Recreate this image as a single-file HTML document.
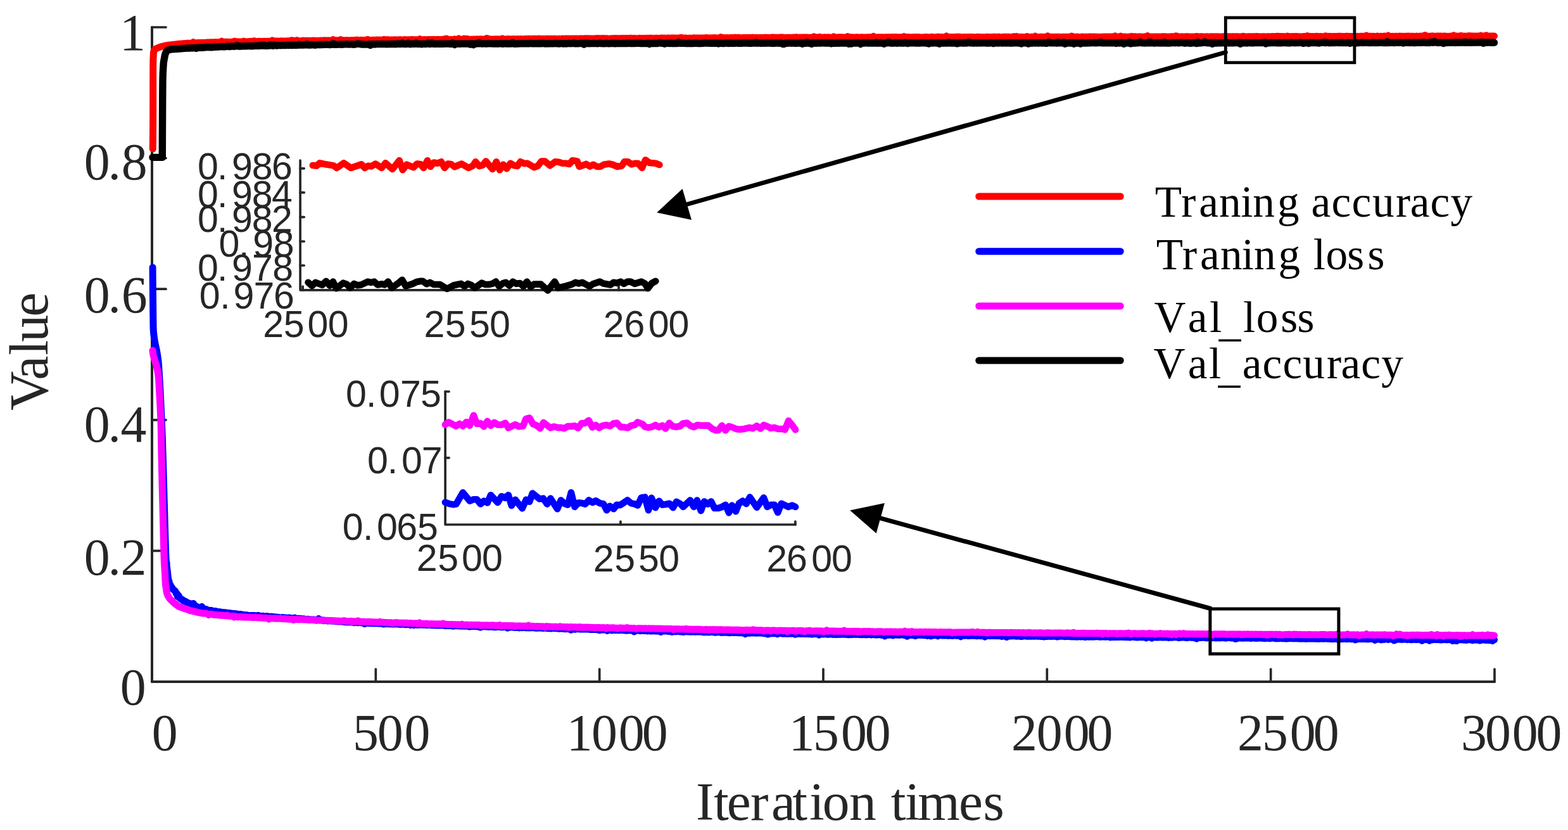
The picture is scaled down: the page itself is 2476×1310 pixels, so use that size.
<!DOCTYPE html>
<html lang="en"><head><meta charset="utf-8"><title>Training curves</title>
<style>html,body{margin:0;padding:0;background:#fff;}body{width:2476px;height:1310px;overflow:hidden;}svg{display:block;}text{white-space:pre;font-kerning:none;}</style>
</head><body>
<svg width="2476" height="1310" viewBox="0 0 2476 1310" role="img" aria-label="Training and validation accuracy and loss versus iteration times">
<rect x="0" y="0" width="2476" height="1310" fill="#ffffff"/>
<g id="main-axes">
<path d="M240,43 L240,1076 L2360,1076" fill="none" stroke="#262626" stroke-width="4" stroke-linecap="round" stroke-linejoin="round" stroke-linejoin="miter"/>
<path d="M240,1076 L262,1076" fill="none" stroke="#262626" stroke-width="3.7" stroke-linecap="round" stroke-linejoin="round"/>
<path d="M240,869.4 L262,869.4" fill="none" stroke="#262626" stroke-width="3.7" stroke-linecap="round" stroke-linejoin="round"/>
<path d="M240,662.8 L262,662.8" fill="none" stroke="#262626" stroke-width="3.7" stroke-linecap="round" stroke-linejoin="round"/>
<path d="M240,456.2 L262,456.2" fill="none" stroke="#262626" stroke-width="3.7" stroke-linecap="round" stroke-linejoin="round"/>
<path d="M240,249.6 L262,249.6" fill="none" stroke="#262626" stroke-width="3.7" stroke-linecap="round" stroke-linejoin="round"/>
<path d="M240,43 L262,43" fill="none" stroke="#262626" stroke-width="3.7" stroke-linecap="round" stroke-linejoin="round"/>
<path d="M240,1076 L240,1056.2" fill="none" stroke="#262626" stroke-width="3.7" stroke-linecap="round" stroke-linejoin="round"/>
<path d="M593.33,1076 L593.33,1056.2" fill="none" stroke="#262626" stroke-width="3.7" stroke-linecap="round" stroke-linejoin="round"/>
<path d="M946.67,1076 L946.67,1056.2" fill="none" stroke="#262626" stroke-width="3.7" stroke-linecap="round" stroke-linejoin="round"/>
<path d="M1300,1076 L1300,1056.2" fill="none" stroke="#262626" stroke-width="3.7" stroke-linecap="round" stroke-linejoin="round"/>
<path d="M1653.33,1076 L1653.33,1056.2" fill="none" stroke="#262626" stroke-width="3.7" stroke-linecap="round" stroke-linejoin="round"/>
<path d="M2006.67,1076 L2006.67,1056.2" fill="none" stroke="#262626" stroke-width="3.7" stroke-linecap="round" stroke-linejoin="round"/>
<path d="M2360,1076 L2360,1056.2" fill="none" stroke="#262626" stroke-width="3.7" stroke-linecap="round" stroke-linejoin="round"/>
</g>
<g id="inset-axes">
<path d="M474.1,253.2 L474.1,457.8 L1024,457.8" fill="none" stroke="#262626" stroke-width="3.7" stroke-linecap="round" stroke-linejoin="round"/>
<path d="M474.1,265.8 L480.2,265.8" fill="none" stroke="#262626" stroke-width="3.7" stroke-linecap="round" stroke-linejoin="round"/>
<path d="M474.1,303.9 L480.2,303.9" fill="none" stroke="#262626" stroke-width="3.7" stroke-linecap="round" stroke-linejoin="round"/>
<path d="M474.1,342.6 L480.2,342.6" fill="none" stroke="#262626" stroke-width="3.7" stroke-linecap="round" stroke-linejoin="round"/>
<path d="M474.1,381 L480.2,381" fill="none" stroke="#262626" stroke-width="3.7" stroke-linecap="round" stroke-linejoin="round"/>
<path d="M474.1,419 L480.2,419" fill="none" stroke="#262626" stroke-width="3.7" stroke-linecap="round" stroke-linejoin="round"/>
<path d="M478.1,457.8 L478.1,452.2" fill="none" stroke="#262626" stroke-width="3.7" stroke-linecap="round" stroke-linejoin="round"/>
<path d="M977,457.8 L977,451" fill="none" stroke="#262626" stroke-width="3.7" stroke-linecap="round" stroke-linejoin="round"/>
<path d="M703.1,618 L703.1,828 L1255.9,828" fill="none" stroke="#262626" stroke-width="3.7" stroke-linecap="round" stroke-linejoin="round"/>
<path d="M703.1,618 L709,618" fill="none" stroke="#262626" stroke-width="3.7" stroke-linecap="round" stroke-linejoin="round"/>
<path d="M703.1,722.7 L709,722.7" fill="none" stroke="#262626" stroke-width="3.7" stroke-linecap="round" stroke-linejoin="round"/>
<path d="M979.9,828 L979.9,823" fill="none" stroke="#262626" stroke-width="3.7" stroke-linecap="round" stroke-linejoin="round"/>
<path d="M1255.9,828 L1255.9,823" fill="none" stroke="#262626" stroke-width="3.7" stroke-linecap="round" stroke-linejoin="round"/>
</g>
<g id="curves">
<path d="M241.3,235L241.31,233.99L241.32,232.82L241.33,231.49L241.35,230.02L241.36,228.42L241.38,226.71L241.4,224.89L241.42,222.99L241.43,221.01L241.45,218.97L241.47,216.89L241.49,214.76L241.51,212.62L241.53,210.46L241.54,208.31L241.56,206.17L241.58,204.07L241.59,202.01L241.6,200L241.61,198.28L241.62,196.53L241.62,194.75L241.63,192.95L241.64,191.13L241.64,189.29L241.65,187.44L241.66,185.57L241.66,183.7L241.66,181.82L241.67,179.94L241.67,178.06L241.68,176.18L241.68,174.31L241.68,172.46L241.69,170.61L241.69,168.78L241.69,166.98L241.69,165.19L241.7,163.43L241.7,161.7L241.7,160L241.7,157.95L241.7,155.91L241.7,153.89L241.7,151.89L241.7,149.9L241.7,147.93L241.7,145.97L241.7,144.04L241.7,142.12L241.7,140.23L241.7,138.36L241.7,136.52L241.7,134.7L241.7,132.9L241.7,131.13L241.7,129.39L241.7,127.68L241.7,126L241.7,123.86L241.71,121.74L241.71,119.65L241.71,117.58L241.72,115.55L241.72,113.56L241.72,111.62L241.73,109.74L241.74,107.92L241.75,106.17L241.76,104.5L241.77,102.91L241.78,101.41L241.8,100L241.84,97.68L241.89,95.5L241.95,93.45L242.02,91.53L242.11,89.71L242.2,88L242.34,85.64L242.48,83.45L242.69,81.53L243,80L245.2,77.6L246.69,76.73L248.53,75.84L250.6,75L252.31,74.41L254.17,73.83L256.1,73.29L258,72.8L259.79,72.35L261.54,71.95L263.39,71.59L265.5,71.3L266.66,71.17L267.92,71.02L269.29,70.86L270.75,70.69L272.29,70.51L273.92,70.32L275.62,70.13L277.4,69.93L279.24,69.73L281.14,69.53L283.09,69.34L285.1,69.15L287.14,68.96L289.23,68.79L291.34,68.62L293.48,68.47L295.64,68.33L297.82,68.2L300,68.19L301.24,68.23L302.5,68.08L303.8,67.66L305.13,66.66L306.48,67.77L307.86,67.75L309.27,68.01L310.7,67.73L312.17,67.72L313.65,67.49L315.17,67.41L316.71,67.56L318.27,67.49L319.85,67.34L321.47,67.42L323.1,67.41L324.76,67.16L326.43,67.11L328.13,67.11L329.86,66.87L331.6,66.98L333.36,66.76L335.14,66.7L336.95,67.06L338.77,66.82L340.61,66.49L342.47,66.79L344.34,67.87L346.24,66.59L348.15,66.52L350.07,65.09L352.01,66.34L353.97,66.34L355.94,66.28L357.93,66.1L359.93,66.3L361.95,66.42L363.97,66.33L366.01,66.24L368.07,65.91L370.13,64.99L372.21,66.04L374.29,65.73L376.39,65.87L378.49,65.91L380.61,66.05L382.74,65.6L384.87,65.04L387.01,65.66L389.16,65.7L391.31,65.85L393.48,65.46L395.65,65.63L397.82,65.17L400,65.21L401.32,64.53L402.66,65.38L404,65.44L405.35,65.43L406.72,65.4L408.09,65.29L409.48,65.44L410.87,65.24L412.27,65.51L413.69,65.92L415.11,65.18L416.54,65.13L417.98,65.29L419.44,65.18L420.9,65.2L422.37,65.17L423.85,65.36L425.34,65.27L426.84,65.15L428.35,64.95L429.86,63.96L431.39,65.11L432.93,64.94L434.47,64.8L436.03,65.04L437.59,64.95L439.16,64.87L440.74,65.12L442.33,64.95L443.93,64.67L445.54,64.81L447.15,64.86L448.77,66.34L450.41,64.86L452.05,64.65L453.7,64.81L455.35,64.76L457.02,64.55L458.69,64.42L460.38,63.64L462.07,64.53L463.77,64.12L465.47,64.57L467.19,64.32L468.91,63.57L470.64,64.45L472.38,64.63L474.13,64.66L475.88,64.5L477.64,64.19L479.41,64.11L481.19,64.26L482.97,64.14L484.76,64.12L486.56,64.37L488.37,64.23L490.18,64.52L492,64.29L493.83,64.11L495.67,64L497.51,64.57L499.36,64.19L501.21,64.19L503.08,64.75L504.95,63.98L506.82,63.98L508.71,64.38L510.6,63.95L512.5,63.74L514.4,63.95L516.31,63.91L518.23,63.79L520.15,63.91L522.08,64.03L524.01,63.96L525.96,62.56L527.91,63.71L529.86,63.67L531.82,63.8L533.79,63.87L535.76,63.85L537.74,62.58L539.72,63.88L541.71,63.61L543.71,63.69L545.71,64.99L547.72,63.5L549.73,63.74L551.75,64L553.78,63.66L555.81,63.49L557.84,63.86L559.88,63.54L561.93,63.17L563.98,63.12L566.04,63.56L568.1,63.47L570.17,63.24L572.24,63.62L574.32,63.61L576.4,63.21L578.49,63.23L580.58,62.34L582.67,63.55L584.78,63.69L586.88,63.33L588.99,63.28L591.11,63.3L593.23,63.21L595.35,62.89L597.48,63.22L599.61,63.07L601.75,63.21L603.89,63.19L606.04,62.23L608.19,62.76L610.34,63.09L612.5,62.62L614.66,62.91L616.83,62.96L619,62.99L620.22,62.99L621.46,62.93L622.7,63.12L623.94,62.74L625.19,62.97L626.45,63.07L627.72,62.94L628.99,63.02L630.27,62.75L631.55,62.99L632.84,62.76L634.14,62.86L635.44,62.97L636.75,62.86L638.07,62.87L639.4,62.59L640.72,63.02L642.06,63.04L643.4,62.67L644.75,62.67L646.11,62.63L647.47,62.64L648.83,62.62L650.21,62.93L651.59,62.54L652.97,62.68L654.36,62.84L655.76,62.65L657.16,62.7L658.57,62.67L659.99,62.71L661.41,62.56L662.84,61.62L664.27,62.48L665.71,62.8L667.15,62.74L668.6,63.87L670.06,62.58L671.52,62.6L672.99,62.81L674.46,62.6L675.94,62.47L677.42,62.68L678.91,62.38L680.4,62.4L681.9,62.56L683.41,62.77L684.92,62.23L686.44,62.72L687.96,62.5L689.49,62.56L691.02,62.3L692.56,62.37L694.1,62.63L695.65,62.39L697.2,62.57L698.76,62.32L700.32,62.5L701.89,61.64L703.46,62.32L705.04,61.06L706.63,62.38L708.21,62.4L709.81,62.56L711.41,62.29L713.01,63.19L714.62,62.48L716.23,62.31L717.85,61.87L719.47,62.14L721.1,62.23L722.73,62.19L724.37,61.01L726.01,62.33L727.65,62.12L729.3,62.36L730.96,62.13L732.62,61.08L734.28,62.47L735.95,63.41L737.62,61.14L739.3,62.4L740.98,62.4L742.66,62.19L744.35,62.29L746.05,62.15L747.75,62L749.45,62.07L751.16,62.19L752.87,61.82L754.58,61.9L756.3,61.96L758.03,61.81L759.75,61.82L761.48,61.94L763.22,62.04L764.96,61.95L766.7,62.02L768.45,60.58L770.2,60.78L771.96,61.68L773.71,61.84L775.48,61.9L777.24,62.12L779.01,61.93L780.79,62.01L782.56,61.76L784.34,61.85L786.13,61.97L787.92,61.94L789.71,61.85L791.5,61.74L793.3,60.89L795.1,61.87L796.91,62.11L798.72,61.89L800.53,61.63L802.34,61.53L804.16,61.68L805.98,61.66L807.81,61.69L809.64,61.67L811.47,61.56L813.3,62.84L815.14,61.69L816.98,61.58L818.83,61.74L820.67,61.6L822.52,61.41L824.37,61.7L826.23,62.42L828.09,61.87L829.95,61.36L831.82,61.85L833.68,61.36L835.55,61.31L837.43,61.47L839.3,61.41L841.18,61.22L843.06,61.36L844.94,61.32L846.83,61.34L848.72,61.41L850.61,61.1L852.5,61.27L854.4,62.54L856.3,61.33L858.2,61.55L860.1,61.43L862.01,61.37L863.92,61.22L865.83,61.12L867.74,61.39L869.65,61.33L871.57,61.17L873.49,61.36L875.41,61.19L877.34,61.33L879.26,62.03L881.19,61.41L883.12,61.22L885.05,61.39L886.99,61.28L888.92,61.04L890.86,62.36L892.8,61.02L894.74,60.98L896.68,61.26L898.63,61.1L900.58,61.22L902.52,61.08L904.48,61.24L906.43,60.98L908.38,60.97L910.34,61.06L912.29,61.08L914.25,61.77L916.21,60.86L918.17,60.93L920.14,61.16L922.1,60.82L924.07,61.04L926.03,60.81L928,60.74L929.97,61.1L931.94,60.83L933.92,60.91L935.89,60.98L937.87,60.88L939.84,60.75L941.82,60.77L943.8,60.57L945.78,60.8L947.76,60.84L949.74,60.62L951.72,60.38L953.71,60.73L955.69,60.75L957.68,60.67L959.66,60.92L961.65,61.91L963.64,60.91L965.63,60.69L967.62,61.08L969.61,60.54L971.6,60.46L973.59,60.77L975.58,60.61L977.58,60.81L979.57,61.24L981.56,60.38L983.56,60.52L985.55,60.41L987.55,60.48L989.54,60.57L991.54,60.61L993.54,60.64L995.53,60.22L997.53,60.44L999.53,60.74L1001.53,60.35L1003.53,60.69L1005.52,60.63L1007.52,61.39L1009.52,60.28L1011.52,60.58L1013.52,60.53L1015.52,60.48L1017.52,60.5L1019.52,60.43L1021.52,60.34L1023.52,60.48L1025.51,60.31L1027.51,60.16L1029.51,60.34L1031.51,60.44L1033.51,60.55L1035.51,60.21L1037.5,60.31L1039.5,60.45L1041.5,60.46L1043.49,60.12L1045.49,60.12L1047.49,60.19L1049.48,60.11L1051.48,60.3L1053.47,60.23L1055.46,59.95L1057.46,60.17L1059.45,60.21L1061.44,59.86L1063.43,60.14L1065.42,60L1067.41,60.09L1069.4,60.36L1071.39,60.05L1073.38,60.15L1075.36,59.2L1077.35,60L1079.34,60.73L1081.32,60.02L1083.3,60.01L1085.28,61.36L1087.27,60.29L1089.25,60.23L1091.22,60.25L1093.2,61.25L1095.18,59.82L1097.15,59.93L1099.13,59.9L1101.1,59.93L1103.07,59.97L1105.04,60.08L1107.01,59.89L1108.98,60.09L1110.95,60.01L1112.91,59.97L1114.88,59.58L1116.84,59.78L1118.8,59.98L1120.76,59.87L1122.71,59.9L1124.67,59.78L1126.63,59.98L1128.58,59.54L1130.53,59.96L1132.48,60.04L1134.43,59.93L1136.37,59.91L1138.32,58.46L1140.26,59.54L1142.2,59.59L1144.14,59.86L1146.07,59.75L1148.01,59.49L1149.94,60.74L1151.87,59.8L1153.8,59.58L1155.73,59.39L1157.65,59.39L1159.57,59.6L1161.49,59.26L1163.41,59.46L1165.33,59.5L1167.24,59.27L1169.15,59.91L1171.06,60.37L1172.97,59.57L1174.87,59.46L1176.77,59.76L1178.67,59.45L1180.57,59.55L1182.46,59.4L1184.36,59.46L1186.25,59.47L1188.13,59.32L1190.02,59.49L1191.9,59.5L1193.78,59.41L1195.65,59.54L1197.53,59.69L1199.4,59.48L1201.27,59.57L1203.13,59.45L1204.99,59.68L1206.85,59.3L1208.71,59.23L1210.56,59.35L1212.42,59.45L1214.26,59.42L1216.11,59.41L1217.95,59.17L1219.79,59.07L1221.62,59.08L1223.46,59.36L1225.29,59.28L1227.11,59.33L1228.93,59.43L1230.75,59.1L1232.57,59.16L1234.38,58.86L1236.19,59.23L1238,59.34L1239.81,59.47L1241.61,59.38L1243.42,59.25L1245.23,59.29L1247.04,59.45L1248.85,59.3L1250.66,60.04L1252.47,58.88L1254.28,59.14L1256.09,59.11L1257.91,58.79L1259.72,60.18L1261.54,59.19L1263.36,59.11L1265.18,59.32L1267,58.95L1268.82,59.25L1270.64,58.99L1272.46,59.23L1274.28,58.99L1276.1,59.15L1277.93,59.28L1279.75,59.27L1281.58,59.21L1283.4,59.13L1285.23,57.88L1287.06,59.13L1288.89,59.17L1290.72,58.86L1292.55,59.03L1294.38,58.25L1296.21,59.15L1298.04,59.24L1299.87,59.1L1301.71,58.87L1303.54,58.93L1305.38,59.11L1307.21,58.98L1309.05,58.83L1310.89,59.2L1312.72,59.14L1314.56,59.17L1316.4,57.89L1318.24,59.25L1320.08,59.01L1321.92,59.06L1323.76,59.15L1325.61,58.63L1327.45,59.12L1329.29,58.8L1331.13,58.89L1332.98,58.97L1334.82,59.03L1336.67,58.82L1338.51,57.68L1340.36,58.83L1342.21,58.73L1344.05,58.85L1345.9,59.02L1347.75,58.95L1349.6,58.94L1351.45,59.08L1353.3,58.76L1355.15,59.01L1357,58.91L1358.85,58.92L1360.7,58.69L1362.55,59.04L1364.4,58.88L1366.26,58.94L1368.11,58.92L1369.96,58.78L1371.82,58.95L1373.67,58.73L1375.53,58.74L1377.38,58.67L1379.24,57.48L1381.09,58.88L1382.95,58.99L1384.8,59.3L1386.66,58.67L1388.52,58.93L1390.37,58.8L1392.23,59.42L1394.09,58.71L1395.94,59.04L1397.8,59.15L1399.66,58.61L1401.52,58.84L1403.38,58.58L1405.24,59.11L1407.1,58.8L1408.96,58.55L1410.81,58.69L1412.67,58.56L1414.53,58.53L1416.39,58.75L1418.25,58.73L1420.11,58.82L1421.97,59.06L1423.83,58.66L1425.7,58.9L1427.56,57.64L1429.42,58.55L1431.28,58.78L1433.14,58.46L1435,58.72L1436.86,58.64L1438.72,58.85L1440.58,58.65L1442.44,59.11L1444.31,58.6L1446.17,58.75L1448.03,58.4L1449.89,58.54L1451.75,58.63L1453.61,58.95L1455.47,59.59L1457.33,58.76L1459.2,58.83L1461.06,58.52L1462.92,58.51L1464.78,58.67L1466.64,58.85L1468.5,58.61L1470.36,58.46L1472.22,58.28L1474.08,58.72L1475.94,59.3L1477.8,58.52L1479.66,58.59L1481.52,58.12L1483.38,58.5L1485.24,58.59L1487.1,58.49L1488.96,58.71L1490.82,58.69L1492.68,58.81L1494.54,57.06L1496.4,58.66L1498.25,58.39L1500.11,58.47L1501.97,58.45L1503.83,58.5L1505.69,58.38L1507.54,58.55L1509.4,58.36L1511.26,58.24L1513.11,58.53L1514.97,58.21L1516.82,58.61L1518.68,58.65L1520.53,58.55L1522.39,58.38L1524.24,58.8L1526.1,58.55L1527.95,58.41L1529.8,58.67L1531.66,58.28L1533.51,58.92L1535.36,58.59L1537.21,58.54L1539.06,58.97L1540.91,58.7L1542.76,58.27L1544.61,58.35L1546.46,58.56L1548.31,58.53L1550.16,58.66L1552.01,58.66L1553.86,58.53L1555.7,58.88L1557.55,58.5L1559.4,58.29L1561.24,58.43L1563.09,58.63L1564.93,58.51L1566.78,58.42L1568.62,58.29L1570.46,58.32L1572.31,58.37L1574.15,58.52L1575.99,59.32L1577.83,58.12L1579.67,58.74L1581.51,58.83L1583.35,58.49L1585.18,58.26L1587.02,58.26L1588.86,58.2L1590.7,58.57L1592.53,58.2L1594.37,58.46L1596.2,58.63L1598.03,58.56L1599.87,57.76L1601.7,57.68L1603.53,58.2L1605.36,57.41L1607.19,58.37L1609.02,58.42L1610.85,58.4L1612.67,58.33L1614.5,58.58L1616.33,58.47L1618.15,58.7L1619.98,58.24L1621.8,57.47L1623.62,58.46L1625.45,58.43L1627.27,58.39L1629.09,58.31L1630.91,58.52L1632.73,58.43L1634.54,57.18L1636.36,58.34L1638.18,58.43L1639.99,58.42L1641.81,58.62L1643.62,58.26L1645.43,58.34L1647.24,59.71L1649.05,58.27L1650.86,58.47L1652.67,58.44L1654.48,56.94L1656.29,58.18L1658.09,58.33L1659.9,58.34L1661.7,58.59L1663.5,58.18L1665.31,58.71L1667.11,58.18L1668.91,58.39L1670.71,58.15L1672.5,58.29L1674.3,58.44L1676.1,58.44L1677.89,58.24L1679.68,58.22L1681.48,58.29L1683.27,58.44L1685.06,58.22L1686.85,58.29L1688.63,58.21L1690.42,58.3L1692.21,57.03L1693.99,58.11L1695.77,58.02L1697.56,58.58L1699.34,58.44L1701.12,58.05L1702.9,58.22L1704.67,59.65L1706.45,58.96L1708.22,57.98L1710,58.22L1711.77,58.28L1713.54,58.31L1715.31,58.24L1717.08,58.3L1718.85,58.18L1720.61,57.89L1722.38,58.21L1724.14,58.07L1725.91,58.18L1727.67,58.04L1729.43,58.25L1731.18,58.31L1732.94,58.26L1734.7,58.24L1736.45,58.83L1738.2,58.23L1739.96,58.45L1741.71,58.08L1743.45,58.02L1745.2,58.32L1746.95,57.98L1748.69,58.34L1750.44,58.06L1752.18,58.04L1753.92,58.18L1755.66,57.99L1757.39,57.86L1759.13,58.92L1760.86,56.99L1762.6,58.08L1764.33,58.06L1766.06,58.18L1767.79,58.28L1769.51,57.24L1771.24,58.98L1772.96,58.06L1774.69,58.07L1776.41,58.02L1778.12,58.15L1779.84,58.18L1781.56,58.19L1783.27,58.1L1784.99,58.03L1786.7,57.36L1788.41,59.17L1790.11,58.01L1791.82,57.79L1793.53,58.09L1795.23,58.12L1796.93,58.11L1798.63,59.28L1800.33,57.88L1802.02,58.19L1803.72,58.33L1805.41,58.24L1807.1,57.82L1808.79,58.2L1810.48,58.18L1812.17,56.74L1813.85,57.95L1815.53,57.97L1817.21,57.93L1818.89,58.18L1820.57,58.11L1822.25,58.14L1823.92,57.95L1825.59,58.04L1827.26,57.92L1828.93,58.05L1830.59,57.94L1832.26,58.33L1833.92,57.93L1835.58,57.78L1837.24,58L1838.9,57.85L1840.55,57.85L1842.21,58.09L1843.86,58.09L1845.51,58.06L1847.16,57.88L1848.8,58.12L1850.44,57.69L1852.09,57.81L1853.73,57.97L1855.36,58.14L1857,56.71L1859.01,57.42L1861.03,57.93L1863.04,58.12L1865.07,57.98L1867.09,57.85L1869.12,58.11L1871.15,58.06L1873.19,57.73L1875.22,57.76L1877.26,57.91L1879.31,58.02L1881.35,58.28L1883.4,57.91L1885.45,57.89L1887.51,57.78L1889.56,57.59L1891.62,57.79L1893.69,57.9L1895.75,57.79L1897.82,57.68L1899.89,58.11L1901.96,57.95L1904.03,57.99L1906.11,57.69L1908.19,58.36L1910.27,58.02L1912.35,57.83L1914.44,57.93L1916.52,57.75L1918.61,57.95L1920.7,57.82L1922.8,57.91L1924.89,57.84L1926.99,58.82L1929.08,57.92L1931.18,57.76L1933.28,57.71L1935.39,57.81L1937.49,57.95L1939.6,57.78L1941.7,57.74L1943.81,58.03L1945.92,57.77L1948.03,57.83L1950.14,57.87L1952.25,57.77L1954.36,57.67L1956.48,57.93L1958.59,57.88L1960.71,57.74L1962.83,57.32L1964.94,57.6L1967.06,57.85L1969.18,58.14L1971.3,57.71L1973.42,57.86L1975.54,57.74L1977.66,57.68L1979.78,57.71L1981.9,57.81L1984.03,57.51L1986.15,57.68L1988.27,57.81L1990.39,58.38L1992.51,57.75L1994.64,57.67L1996.76,57.78L1998.88,57.88L2001,57.78L2003.12,57.68L2005.25,58.09L2007.37,57.74L2009.49,57.6L2011.61,57.7L2013.73,57.61L2015.85,57.58L2017.97,57.18L2020.08,57.63L2022.2,57.59L2024.32,57.66L2026.43,57.5L2028.55,57.67L2030.66,58.61L2032.78,57L2034.89,57.5L2037,57.62L2039.11,57.72L2041.22,57.51L2043.32,57.74L2045.43,57.54L2047.54,57.61L2049.64,57.68L2051.74,57.64L2053.84,57.88L2055.94,57.87L2058.04,57.62L2060.13,57.62L2062.23,57.59L2064.32,56.57L2066.41,57.72L2068.5,57.37L2070.58,57.68L2072.67,57.53L2074.75,57.63L2076.83,57.44L2078.91,57.37L2080.99,57.39L2083.06,57.62L2085.13,57.47L2087.2,57.7L2089.27,58.59L2091.33,57.35L2093.4,56.71L2095.45,57.4L2097.51,57.4L2099.57,57.33L2101.62,57.89L2103.67,57.49L2105.71,57.6L2107.75,57.41L2109.79,57.44L2111.83,57.5L2113.86,57.25L2115.9,57.33L2117.92,57.37L2119.95,57.55L2121.97,57.5L2123.99,57.52L2126,57.35L2128.01,57.33L2130.02,57.42L2132.02,57.76L2134.02,57.44L2136.02,57.61L2138.01,57.33L2140,57.17L2141.99,58.1L2143.97,57.27L2145.95,57.78L2147.92,57.33L2149.89,57.22L2151.86,57.56L2153.82,57.33L2155.78,57.2L2157.73,56.02L2159.68,57.54L2161.63,57.52L2163.57,57.28L2165.5,57.36L2167.44,57.62L2169.36,57.19L2171.28,57.81L2173.2,57.65L2175.12,56.99L2177.02,57.53L2178.93,57.39L2180.83,57.3L2182.72,57.75L2184.61,57.16L2186.49,57.02L2188.37,57.53L2190.25,57.38L2192.11,56.12L2193.98,57.28L2195.83,57.42L2197.69,57.51L2199.53,57.29L2201.38,58.24L2203.21,57.14L2205.04,57.19L2206.87,57.72L2208.69,57.15L2210.5,57.12L2212.31,57.26L2214.11,57.28L2215.91,57.39L2217.7,57.36L2219.48,57.22L2221.26,57.38L2223.03,57.02L2224.8,57.27L2226.56,57.15L2228.31,57.15L2230.06,57.41L2231.8,57.28L2233.54,57.39L2235.27,58.23L2236.99,57.08L2238.7,57.33L2240.41,57.42L2242.11,57.16L2243.81,57.12L2245.5,57.02L2247.18,57.35L2248.85,56.06L2250.52,55.65L2252.18,57.44L2253.83,56.99L2255.48,57.38L2257.12,57.16L2258.75,57.24L2260.38,57.36L2262,56.72L2263.61,57.29L2265.21,58.07L2266.8,57.37L2268.39,56.93L2269.97,57.26L2271.55,57.09L2273.11,57.01L2274.67,56.98L2276.22,57.23L2277.76,57.74L2279.29,57.1L2280.82,57.06L2282.34,57.29L2283.85,57.23L2285.35,57.42L2286.84,58.43L2288.33,57.15L2289.8,57.18L2291.27,57.09L2292.73,57L2294.18,56.85L2295.63,55.84L2297.06,57.25L2298.49,57.24L2299.91,57.04L2301.32,57.06L2302.72,57.25L2304.11,57.12L2305.49,56.98L2306.86,56.36L2308.23,57.21L2309.58,56.96L2310.93,57.06L2312.27,57.03L2313.6,57.31L2314.92,57.13L2316.23,57.4L2317.53,56.8L2318.82,56.8L2320.1,56.97L2321.37,56.41L2322.63,57.02L2323.89,56.95L2325.13,57.05L2326.36,56.79L2327.59,57.43L2328.8,57.89L2330.01,57.03L2331.2,56.91L2332.38,56.92L2333.56,58.31L2334.72,57.16L2335.88,56.63L2337.02,56.76L2338.15,56.19L2339.28,57.12L2340.39,56.98L2341.49,57.22L2342.59,56.78L2343.67,56.97L2344.74,57.05L2345.8,57.12L2346.85,55.86L2347.89,57.11L2348.92,57.38L2349.93,56.92L2350.94,56.98L2351.93,56.95L2352.92,57.03L2353.89,57.09L2354.86,56.92L2355.81,56.87L2356.75,57.12L2357.68,56.97L2358.59,57.04L2359.5,56.89" fill="none" stroke="#ff0000" stroke-width="11" stroke-linecap="round" stroke-linejoin="round"/>
<path d="M241.05,422L241.06,423L241.07,424.15L241.08,425.44L241.09,426.86L241.11,428.4L241.12,430.05L241.14,431.79L241.16,433.62L241.17,435.53L241.19,437.51L241.21,439.55L241.23,441.63L241.25,443.75L241.27,445.9L241.29,448.06L241.31,450.23L241.33,452.39L241.35,454.54L241.37,456.67L241.39,458.76L241.41,460.81L241.43,462.8L241.45,464.72L241.47,466.57L241.48,468.33L241.5,470L241.52,472.09L241.54,474.18L241.56,476.24L241.58,478.29L241.6,480.31L241.62,482.31L241.64,484.28L241.66,486.22L241.68,488.13L241.7,490L241.72,491.83L241.74,493.62L241.76,495.36L241.78,497.05L241.8,498.69L241.82,500.27L241.84,501.8L241.86,503.26L241.88,504.67L241.9,506L241.93,508.3L241.95,510.44L241.96,512.45L241.99,514.38L242.02,516.25L242.08,518.12L242.17,520.02L242.3,522L242.44,523.81L242.61,525.62L242.8,527.45L243.01,529.28L243.23,531.11L243.48,532.94L243.74,534.77L244.01,536.59L244.3,538.4L244.61,540.2L244.96,542L245.34,543.79L245.73,545.57L246.12,547.35L246.52,549.14L246.9,550.92L247.27,552.71L247.6,554.5L247.91,556.3L248.22,558.09L248.51,559.89L248.79,561.69L249.07,563.49L249.32,565.29L249.56,567.09L249.79,568.9L250,570.7L250.19,572.47L250.34,574.19L250.48,575.88L250.61,577.58L250.72,579.3L250.83,581.08L250.95,582.94L251.07,584.9L251.2,587L251.31,588.61L251.41,590.27L251.52,591.97L251.64,593.72L251.75,595.53L251.87,597.38L251.99,599.29L252.1,601.26L252.22,603.28L252.34,605.37L252.46,607.51L252.58,609.72L252.7,612L252.77,613.38L252.84,614.82L252.92,616.32L253,617.88L253.08,619.48L253.16,621.14L253.25,622.85L253.33,624.6L253.42,626.38L253.51,628.2L253.6,630.06L253.69,631.94L253.78,633.85L253.87,635.78L253.97,637.73L254.06,639.69L254.15,641.66L254.24,643.65L254.34,645.63L254.43,647.62L254.52,649.61L254.61,651.59L254.7,653.56L254.79,655.52L254.87,657.46L254.96,659.38L255.04,661.28L255.12,663.16L255.2,665L255.28,666.82L255.35,668.61L255.43,670.38L255.5,672.14L255.57,673.88L255.65,675.61L255.72,677.32L255.79,679.04L255.86,680.74L255.92,682.45L255.99,684.16L256.06,685.87L256.13,687.58L256.19,689.31L256.26,691.04L256.33,692.79L256.39,694.56L256.46,696.35L256.53,698.15L256.59,699.99L256.66,701.84L256.72,703.73L256.79,705.65L256.86,707.61L256.93,709.6L256.99,711.63L257.06,713.71L257.13,715.83L257.2,718L257.25,719.51L257.3,721.06L257.34,722.63L257.39,724.23L257.44,725.85L257.49,727.5L257.54,729.17L257.59,730.86L257.64,732.58L257.69,734.31L257.74,736.07L257.79,737.84L257.84,739.63L257.89,741.44L257.94,743.26L257.99,745.1L258.04,746.95L258.09,748.81L258.14,750.68L258.19,752.57L258.24,754.46L258.29,756.36L258.34,758.27L258.4,760.18L258.45,762.1L258.5,764.03L258.55,765.95L258.6,767.88L258.66,769.81L258.71,771.74L258.76,773.67L258.81,775.6L258.86,777.52L258.92,779.44L258.97,781.36L259.02,783.26L259.08,785.17L259.13,787.06L259.18,788.94L259.23,790.82L259.29,792.68L259.34,794.53L259.39,796.37L259.45,798.19L259.5,800L259.55,801.85L259.61,803.74L259.67,805.64L259.72,807.57L259.78,809.52L259.83,811.49L259.89,813.48L259.95,815.48L260.01,817.49L260.06,819.51L260.12,821.54L260.18,823.58L260.24,825.62L260.29,827.67L260.35,829.71L260.41,831.75L260.47,833.79L260.53,835.83L260.59,837.85L260.65,839.87L260.7,841.87L260.76,843.86L260.82,845.84L260.88,847.79L260.94,849.73L261,851.64L261.05,853.53L261.11,855.4L261.17,857.23L261.23,859.04L261.28,860.81L261.34,862.55L261.4,864.25L261.45,865.92L261.51,867.54L261.57,869.12L261.62,870.66L261.68,872.15L261.73,873.59L261.79,874.98L261.84,876.32L261.89,877.6L261.95,878.83L262,879.9L262.12,882.48L262.26,883.62L262.43,886.52L262.61,888.22L262.82,889.79L263.03,888.15L263.25,893.89L263.47,895.26L263.69,896.78L263.9,898.31L264.1,899.29L264.36,902.38L264.59,904.89L264.83,906.4L265.06,909.01L265.32,910.94L265.6,912.94L265.92,914.81L266.3,915.9L266.84,917.5L267.4,920.15L268.03,924.06L268.75,922.75L269.6,925.42L270.6,926.12L271.64,927.49L272.84,929.97L274.15,930.97L275.51,931.97L276.88,933.04L278.19,936.81L279.4,936.92L280.58,941.85L281.56,939.7L282.5,940.79L283.53,943.66L284.82,944.99L286.5,945.88L287.74,946.12L289.13,947.98L290.64,948.92L292.27,948.85L293.99,949.99L295.79,951.11L297.66,951.96L299.56,952.39L301.5,953.01L303.44,954.28L305.38,952.5L307.3,955.56L308.92,957.25L310.53,957.21L312.14,958.46L313.76,958.91L315.39,959.16L317.05,959.74L318.74,957.54L320.46,960.24L322.23,961.44L324.06,961.29L325.96,961.66L327.92,963.29L329.97,963.37L332.1,963.49L333.53,963.37L335.06,964.18L336.68,964.36L338.39,964.69L340.17,964.44L342.02,965.04L343.93,965.53L345.89,965.67L347.89,965.82L349.92,967.08L351.99,966.54L354.06,966.83L356.15,966.77L358.24,967.35L360.31,967.45L362.37,967.9L364.41,967.81L366.41,968.25L368.37,968.55L370.28,968.48L372.13,968.83L373.91,969.04L375.61,969.63L377.23,969.47L378.76,969.49L380.18,969.76L381.5,969.72L383.61,971.07L385.54,970.38L387.35,970.8L389.06,970.7L390.74,971.09L392.41,972.31L394.13,971.49L395.94,971.43L397.88,971.54L400,971.51L401.15,971.35L402.34,971.61L403.59,971.83L404.89,972.08L406.23,971.89L407.62,971.22L409.06,972.16L410.53,972.53L412.05,972.36L413.61,972.39L415.21,972.25L416.84,972.85L418.51,972.91L420.22,972.77L421.95,972.48L423.72,973.62L425.52,973.16L427.35,973.3L429.2,973.33L431.08,973.55L432.98,973.94L434.91,973.76L436.85,974.18L438.82,974.25L440.8,974.65L442.8,975.58L444.82,974.59L446.85,974.62L448.89,975.13L450.94,975.09L453.01,975.29L455.08,975.12L457.15,974.92L459.23,975.66L461.32,976.14L463.41,975.91L465.49,975.13L467.58,976.38L469.66,976.4L471.74,976.18L473.82,976.47L475.89,976.56L477.95,976.93L480,976.69L481.64,977.41L483.27,977.65L484.91,977.26L486.55,977.54L488.19,978.5L489.83,977.76L491.47,977.93L493.12,977.89L494.77,977.99L496.42,978.09L498.08,978.35L499.74,978.63L501.4,978.48L503.07,976.58L504.74,978.69L506.42,978.82L508.1,978.81L509.8,978.9L511.49,979.67L513.2,979.29L514.91,979.57L516.63,979.97L518.35,979.94L520.09,979.68L521.83,979.92L523.59,979.86L525.35,980.16L527.12,980.17L528.9,980.32L530.7,980.8L532.5,980.82L534.31,980.75L536.14,980.99L537.98,980.84L539.83,981.02L541.69,981.32L543.57,981.5L545.46,981.75L547.36,981.78L549.28,982.01L551.21,981.64L553.16,981.78L555.12,982.04L557.1,982.34L559.1,982.73L561.11,982.45L563.13,982.45L565.18,982.77L567.24,982.52L569.32,982.03L571.42,983.11L573.54,983.33L575.67,984.61L577.83,983.26L580,983.4L581.36,983.5L582.72,983.51L584.1,983.78L585.48,983.45L586.88,983.33L588.28,983.92L589.7,983.8L591.12,983.57L592.55,983.94L593.99,983.65L595.44,983.94L596.9,982.91L598.37,983.94L599.85,983.86L601.34,984.27L602.84,983.82L604.34,984.19L605.86,984.93L607.38,984.2L608.92,982.99L610.46,984.6L612.01,983.54L613.57,984.72L615.14,984.5L616.71,984.96L618.3,984.61L619.89,984.93L621.49,985.12L623.1,985.12L624.72,984.69L626.35,984.71L627.99,985.1L629.63,985.09L631.29,985.47L632.95,985.23L634.62,985.32L636.29,985.25L637.98,985.17L639.67,985.51L641.38,985.75L643.08,985.61L644.8,985.51L646.53,984.14L648.26,986.58L650,985.69L651.75,985.94L653.51,986.62L655.27,986.08L657.04,985.74L658.82,986.49L660.61,986.06L662.41,986.19L664.21,984.99L666.02,986.02L667.83,986.37L669.66,986.26L671.49,986.29L673.33,986.42L675.18,986.54L677.03,986.38L678.89,986.4L680.76,986.45L682.63,986.76L684.51,986.77L686.4,986.3L688.3,987.05L690.2,986.96L692.11,986.72L694.02,986.95L695.94,987.04L697.87,986.95L699.81,987.06L701.75,987.02L703.7,987.64L705.65,987.25L707.62,987.69L709.58,987.26L711.56,987.73L713.54,987.76L715.53,988.16L717.52,987.55L719.52,987.76L721.52,987.46L723.54,987.77L725.55,987.99L727.58,987.74L729.61,988.14L731.64,987.67L733.68,988.36L735.73,987.94L737.79,987.92L739.84,988.9L741.91,989.17L743.98,988.29L746.06,988.63L748.14,988.54L750.22,988.29L752.32,988.63L754.41,989.08L756.52,988.66L758.63,990.1L760.74,989.26L762.86,988.53L764.98,988.79L767.11,988.91L769.25,988.9L771.39,989.46L773.53,988.97L775.68,989.23L777.84,989.27L780,989.71L781.3,989.35L782.6,989.75L783.91,989.27L785.22,989.35L786.54,989.34L787.87,989.49L789.2,989.45L790.54,989.67L791.88,989.96L793.22,989.45L794.58,989.77L795.93,988.61L797.3,989.52L798.66,989.51L800.04,990.01L801.42,991.1L802.8,990.27L804.19,990.29L805.58,990.12L806.98,988.09L808.39,989.58L809.8,989.96L811.21,989.98L812.63,990.59L814.06,990.59L815.48,990.43L816.92,990.62L818.36,990.1L819.8,990.88L821.25,990.6L822.71,990.29L824.17,990.75L825.63,990.54L827.1,990.39L828.58,990.5L830.06,990.66L831.54,990.96L833.03,990.59L834.52,990.41L836.02,990.92L837.53,990.8L839.04,989.87L840.55,990.83L842.07,990.33L843.59,990.94L845.12,991.07L846.65,991.33L848.18,991.34L849.73,991.19L851.27,991.06L852.82,990.04L854.38,991.07L855.94,989.83L857.5,991.52L859.07,991.34L860.64,991.37L862.22,991.19L863.8,991.5L865.39,991.85L866.98,991.86L868.58,991.84L870.18,991.95L871.78,991.46L873.39,991.53L875,991.53L876.62,991.71L878.24,991.84L879.87,991.85L881.5,991.99L883.14,992.32L884.77,992.03L886.42,990.57L888.07,992.13L889.72,992.45L891.37,992.57L893.03,992.68L894.7,992.37L896.37,992.47L898.04,992.38L899.71,992.46L901.4,994.24L903.08,992.42L904.77,992.77L906.46,992.99L908.16,993.17L909.86,992.6L911.56,992.34L913.27,992.81L914.99,992.61L916.7,993.08L918.42,992.73L920.15,993.04L921.88,992.88L923.61,993.01L925.34,993.05L927.08,992.73L928.83,993.04L930.57,993.23L932.33,993.42L934.08,993.44L935.84,993.26L937.6,993.43L939.37,993.6L941.14,993.39L942.91,993.75L944.69,993.73L946.47,994.78L948.25,993.64L950.04,994.1L951.83,993.8L953.63,994.1L955.42,993.79L957.23,993.94L959.03,995.43L960.84,994.02L962.65,994.01L964.47,994.44L966.29,994.89L968.11,994.41L969.94,994.32L971.77,994.73L973.6,993.97L975.44,994.53L977.27,994.74L979.12,994.58L980.96,994.54L982.81,994.38L984.67,994.78L986.52,994.98L988.38,994.68L990.24,995.2L992.11,994.65L993.98,994.88L995.85,994.93L997.72,995.16L999.6,993.72L1001.48,997.06L1003.36,995.3L1005.25,994.98L1007.14,994.92L1009.04,995.27L1010.93,995.72L1012.83,995.27L1014.73,995.36L1016.64,995.42L1018.55,995.61L1020.46,994.34L1022.37,995.96L1024.29,995.54L1026.21,995.96L1028.13,995.94L1030.05,996.01L1031.98,995.65L1033.91,995.84L1035.85,996.21L1037.78,996.12L1039.72,995.87L1041.66,996.36L1043.61,997.49L1045.55,996.15L1047.5,995.99L1049.46,996.12L1051.41,995.87L1053.37,996.04L1055.33,996.44L1057.29,996.64L1059.26,996.5L1061.22,997.35L1063.19,996.29L1065.17,996.77L1067.14,996.5L1069.12,996.79L1071.1,995.89L1073.08,996.76L1075.07,996.99L1077.06,996.9L1079.05,997.61L1081.04,996.99L1083.03,996.71L1085.03,996.83L1087.03,997.03L1089.03,996.95L1091.03,997.17L1093.04,997.09L1095.05,997.05L1097.06,997.22L1099.07,997.32L1101.09,995.36L1103.1,997.16L1105.12,997.03L1107.14,996.24L1109.17,997.56L1111.19,997.96L1113.22,997.8L1115.25,997.73L1117.28,997.59L1119.32,997.96L1121.35,997.43L1123.39,997.51L1125.43,997.56L1127.47,997.96L1129.51,998.35L1131.56,997.88L1133.61,997.87L1135.66,997.76L1137.71,998.25L1139.76,998.41L1141.81,997.92L1143.87,998.27L1145.93,998.21L1147.99,998.22L1150.05,998.41L1152.11,998.85L1154.18,998.02L1156.25,998.53L1158.32,998.4L1160.39,998.55L1162.46,998.42L1164.53,998.32L1166.61,998.81L1168.68,998.66L1170.76,998.69L1172.84,998.92L1174.92,998.74L1177.01,1000.58L1179.09,998.9L1181.18,999.05L1183.27,999.16L1185.35,999.02L1187.44,998.98L1189.54,998.92L1191.63,998.73L1193.72,999.16L1195.82,999.16L1197.92,998.87L1200.02,998.92L1202.12,999.06L1204.22,999.42L1206.32,999.23L1208.42,999.9L1210.53,999.4L1212.64,1000.91L1214.74,999.07L1216.85,999.91L1218.96,999.74L1221.07,999.69L1223.18,999.64L1225.3,999.63L1227.41,1000.74L1229.53,999.69L1231.64,998.79L1233.76,999.92L1235.88,999.84L1238,1000.28L1239.57,999.82L1241.15,999.74L1242.73,1000.38L1244.31,1000.01L1245.9,1000.21L1247.49,999.94L1249.08,1000.19L1250.68,999.97L1252.28,1000.12L1253.88,1000.18L1255.49,1001.26L1257.1,1000.69L1258.72,1000.4L1260.34,1000.3L1261.96,1000.2L1263.58,1000.19L1265.21,1000.47L1266.84,1000.13L1268.48,1000.4L1270.12,999.92L1271.76,1000.48L1273.4,1000.47L1275.05,1000.34L1276.71,1000.69L1278.36,1000.49L1280.02,1000.31L1281.68,1001.09L1283.34,1000.26L1285.01,1000.68L1286.68,1000.44L1288.36,1000.56L1290.03,1000.6L1291.71,1000.64L1293.4,1002.16L1295.08,1000.6L1296.77,1000.84L1298.47,1000.74L1300.16,1000.99L1301.86,999.8L1303.56,1000.82L1305.26,1000.97L1306.97,1001.18L1308.68,1000.95L1310.39,1000.97L1312.11,1000.86L1313.83,1001.05L1315.55,1001.4L1317.27,1001.1L1319,1001.16L1320.73,1001.55L1322.46,1000.85L1324.19,1001.16L1325.93,1001.16L1327.67,1001.37L1329.41,1001.07L1331.16,1001.08L1332.91,1001.23L1334.66,1001.19L1336.41,1001.14L1338.16,1001.52L1339.92,1001.64L1341.68,1001.52L1343.45,1001.28L1345.21,1001.61L1346.98,1001.31L1348.75,1001.33L1350.52,1001.3L1352.29,1001.44L1354.07,1001.11L1355.85,1001.43L1357.63,1001.34L1359.42,1001.51L1361.2,1001.82L1362.99,1001.32L1364.78,1001.61L1366.57,1001.79L1368.37,1001.79L1370.16,1001.53L1371.96,1001.61L1373.76,1001.58L1375.57,1001.94L1377.37,1001.34L1379.18,1001.58L1380.99,1001.68L1382.8,1002L1384.61,1002.06L1386.43,1001.78L1388.25,1001.79L1390.07,1000.12L1391.89,1002.39L1393.71,1002.03L1395.53,1002.19L1397.36,1004.05L1399.19,1002.39L1401.02,1001.74L1402.85,1002.25L1404.68,1002.14L1406.52,1002.15L1408.36,1002.26L1410.19,1003.08L1412.04,1001.97L1413.88,1002.07L1415.72,1001.63L1417.57,1002.35L1419.41,1002.08L1421.26,1002.34L1423.11,1001.97L1424.96,1001.21L1426.82,1002.28L1428.67,1002.68L1430.53,1002.2L1432.38,1004.29L1434.24,1002.53L1436.1,1002.32L1437.96,1002.54L1439.83,1002.61L1441.69,1002.63L1443.56,1002.49L1445.42,1003.71L1447.29,1000.24L1449.16,1002.48L1451.03,1002.31L1452.9,1002.3L1454.78,1002.39L1456.65,1002.22L1458.52,1002.69L1460.4,1002.83L1462.28,1002.5L1464.16,1003.38L1466.04,1002.81L1467.92,1002.51L1469.8,1003.89L1471.68,1002.93L1473.57,1003.03L1475.45,1002.87L1477.34,1002.87L1479.22,1001.9L1481.11,1003.77L1483,1002.24L1484.89,1002.66L1486.78,1002.63L1488.67,1002.98L1490.56,1002.85L1492.45,1002.91L1494.35,1002.8L1496.24,1003.15L1498.13,1003.13L1500.03,1003.13L1501.93,1003.03L1503.82,1003.4L1505.72,1002.93L1507.62,1003.04L1509.52,1002.99L1511.41,1003.31L1513.31,1002.99L1515.21,1003.02L1517.12,1004.71L1519.02,1003.24L1520.92,1003.17L1522.82,1003.25L1524.72,1002.97L1526.63,1002.93L1528.53,1003.5L1530.43,1003.44L1532.34,1003.34L1534.24,1003.16L1536.14,1003.05L1538.05,1003.16L1539.95,1003.25L1541.86,1003.66L1543.77,1003.47L1545.67,1003.39L1547.58,1003.43L1549.48,1003.8L1551.39,1003.29L1553.3,1003.4L1555.2,1005.15L1557.11,1003.31L1559.02,1003.4L1560.92,1003.28L1562.83,1003.45L1564.74,1003.57L1566.64,1003.48L1568.55,1003.58L1570.46,1003.61L1572.36,1003.61L1574.27,1003.75L1576.17,1003.61L1578.08,1003.26L1579.99,1004.01L1581.89,1004.46L1583.8,1003.91L1585.7,1003.93L1587.61,1003.94L1589.51,1005.5L1591.42,1002.79L1593.32,1004.07L1595.22,1004.09L1597.13,1003.82L1599.03,1003.55L1600.93,1003.8L1602.84,1003.8L1604.74,1004.24L1606.64,1004.08L1608.54,1004.08L1610.44,1004.38L1612.34,1004.55L1614.24,1004.52L1616.14,1003.67L1618.04,1003.8L1619.93,1003.89L1621.83,1004.25L1623.73,1003.92L1625.62,1004.37L1627.52,1004.33L1629.41,1004.22L1631.3,1003.82L1633.2,1004.3L1635.09,1003.71L1636.98,1004.04L1638.87,1004.25L1640.76,1004.07L1642.65,1004.41L1644.54,1004.49L1646.42,1004.19L1648.31,1005.03L1650.19,1004.09L1652.08,1004.47L1653.96,1004.52L1655.84,1004.1L1657.72,1004.32L1659.6,1004.38L1661.48,1004.33L1663.36,1004.22L1665.24,1004.17L1667.11,1004.31L1668.99,1004.92L1670.86,1004.84L1672.73,1004.16L1674.6,1004.26L1676.47,1004.2L1678.34,1004.18L1680.21,1004.46L1682.08,1004.67L1683.94,1004.31L1685.8,1004.51L1687.67,1004.62L1689.53,1004.67L1691.39,1004.69L1693.24,1005.03L1695.1,1004.21L1696.95,1004.89L1698.81,1004.85L1700.66,1005.17L1702.51,1004.66L1704.36,1004.72L1706.21,1005.1L1708.05,1004.62L1709.9,1004.92L1711.74,1004.88L1713.58,1005.48L1715.42,1004.91L1717.26,1004.8L1719.09,1005.22L1720.93,1005.12L1722.76,1004.84L1724.59,1005.2L1726.42,1005.03L1728.25,1004.99L1730.07,1004.87L1731.89,1003.38L1733.72,1004.87L1735.54,1005.03L1737.35,1005.2L1739.17,1004.9L1740.98,1004.84L1742.8,1004.9L1744.61,1005.19L1746.41,1004.98L1748.22,1004.82L1750.02,1004.89L1751.82,1003.31L1753.62,1005.95L1755.42,1005.29L1757.22,1005.43L1759.01,1005.61L1760.8,1005.62L1762.59,1005.42L1764.38,1005.04L1766.16,1005.61L1767.94,1005.39L1769.72,1003.62L1771.5,1005.45L1773.28,1005.34L1775.05,1005.34L1776.82,1005.75L1778.59,1005.31L1780.35,1005.64L1782.12,1005.58L1783.88,1005.95L1785.64,1005.67L1787.39,1005.2L1789.15,1005.12L1790.9,1005.44L1792.65,1005.71L1794.39,1005.61L1796.14,1006.11L1797.88,1005.53L1799.61,1005.65L1801.35,1005.2L1803.08,1005.75L1804.81,1005.62L1806.54,1005.79L1808.27,1005.48L1809.99,1006.86L1811.71,1005.49L1813.42,1005.79L1815.14,1004.17L1816.85,1005.71L1818.55,1007.25L1820.26,1005.58L1821.96,1005.43L1823.66,1005.82L1825.36,1006.03L1827.05,1005.76L1828.74,1006.05L1830.43,1006.03L1832.11,1005.3L1833.79,1005.95L1835.47,1005.7L1837.15,1006.07L1838.82,1005.55L1840.49,1006.03L1842.15,1005.92L1843.82,1005.98L1845.48,1006.46L1847.13,1006.23L1848.78,1005.89L1850.43,1006.25L1852.08,1005.69L1853.72,1005.64L1855.36,1005.78L1857,1004.75L1859.01,1005.86L1861.03,1006.63L1863.04,1006.43L1865.07,1006.02L1867.09,1006.09L1869.12,1005.82L1871.15,1006.17L1873.19,1006.43L1875.22,1006.64L1877.26,1005.89L1879.31,1006.04L1881.35,1006.34L1883.4,1006.18L1885.45,1006.73L1887.51,1006.35L1889.56,1007.97L1891.62,1006.29L1893.69,1006.6L1895.75,1006.46L1897.82,1006.31L1899.89,1006.2L1901.96,1006.03L1904.03,1006.61L1906.11,1006.95L1908.19,1006.13L1910.27,1006.42L1912.35,1006.69L1914.44,1006.76L1916.52,1005.36L1918.61,1006.86L1920.7,1006.96L1922.8,1006.49L1924.89,1006.74L1926.99,1006.89L1929.08,1006.66L1931.18,1006.37L1933.28,1006.88L1935.39,1007.14L1937.49,1006.61L1939.6,1006.61L1941.7,1006.56L1943.81,1006.95L1945.92,1006.66L1948.03,1007.07L1950.14,1008.24L1952.25,1008.26L1954.36,1007.13L1956.48,1006.88L1958.59,1006.93L1960.71,1007.05L1962.83,1007.36L1964.94,1006.67L1967.06,1006.96L1969.18,1007.03L1971.3,1007.07L1973.42,1006.98L1975.54,1007.4L1977.66,1006.84L1979.78,1006.98L1981.9,1007.27L1984.03,1007.1L1986.15,1007.31L1988.27,1007.13L1990.39,1006.97L1992.51,1007.17L1994.64,1007.12L1996.76,1007.63L1998.88,1007.46L2001,1007.2L2003.12,1007.22L2005.25,1007.73L2007.37,1007.06L2009.49,1006.59L2011.61,1007.23L2013.73,1007.65L2015.85,1007.52L2017.97,1007.68L2020.08,1007.64L2022.2,1007.45L2024.32,1007.64L2026.43,1007.63L2028.55,1007.79L2030.66,1007.9L2032.78,1007.88L2034.89,1007.73L2037,1007.33L2039.11,1007.38L2041.22,1007.68L2043.32,1007.85L2045.43,1007.57L2047.54,1007.76L2049.64,1007.81L2051.74,1008.09L2053.84,1007.88L2055.94,1007.96L2058.04,1007.8L2060.13,1008.06L2062.23,1008.29L2064.32,1008.11L2066.41,1007.72L2068.5,1008.05L2070.58,1007.71L2072.67,1007.95L2074.75,1008.13L2076.83,1007.94L2078.91,1008.31L2080.99,1008.21L2083.06,1008.23L2085.13,1007.69L2087.2,1007.94L2089.27,1008.15L2091.33,1008.1L2093.4,1008.01L2095.45,1007.93L2097.51,1008.28L2099.57,1008.08L2101.62,1008.39L2103.67,1008.31L2105.71,1008.51L2107.75,1008.37L2109.79,1008.07L2111.83,1006.66L2113.86,1009.79L2115.9,1008.17L2117.92,1008.45L2119.95,1008.56L2121.97,1008.2L2123.99,1008.23L2126,1008.57L2128.01,1008.45L2130.02,1008.27L2132.02,1008.31L2134.02,1008.65L2136.02,1008.55L2138.01,1008.43L2140,1009.87L2141.99,1008.76L2143.97,1008.71L2145.95,1008.13L2147.92,1008.4L2149.89,1008.44L2151.86,1008.18L2153.82,1008.53L2155.78,1008.59L2157.73,1008.48L2159.68,1008.84L2161.63,1008.77L2163.57,1006.79L2165.5,1008.58L2167.44,1008.41L2169.36,1008.79L2171.28,1010.22L2173.2,1008.57L2175.12,1008.41L2177.02,1009L2178.93,1008.88L2180.83,1009.77L2182.72,1009.46L2184.61,1008.97L2186.49,1009.26L2188.37,1008.82L2190.25,1008.5L2192.11,1009.38L2193.98,1008.62L2195.83,1008.78L2197.69,1008.53L2199.53,1009.16L2201.38,1010.87L2203.21,1010.13L2205.04,1008.93L2206.87,1008.92L2208.69,1008.8L2210.5,1008.93L2212.31,1009.19L2214.11,1009.23L2215.91,1008.99L2217.7,1009.07L2219.48,1007.2L2221.26,1009.48L2223.03,1009.28L2224.8,1009.22L2226.56,1009.27L2228.31,1009.65L2230.06,1009.42L2231.8,1009.26L2233.54,1009.15L2235.27,1009.46L2236.99,1009.56L2238.7,1009.34L2240.41,1008.01L2242.11,1009.23L2243.81,1008.89L2245.5,1011.32L2247.18,1009.29L2248.85,1009.3L2250.52,1009.53L2252.18,1009.23L2253.83,1009.31L2255.48,1008.79L2257.12,1011.21L2258.75,1009.32L2260.38,1009.37L2262,1009.84L2263.61,1009.48L2265.21,1007.98L2266.8,1009.38L2268.39,1009.35L2269.97,1009.5L2271.55,1009.45L2273.11,1009.54L2274.67,1009.96L2276.22,1009.62L2277.76,1009.66L2279.29,1009.57L2280.82,1007.58L2282.34,1009.47L2283.85,1009.68L2285.35,1009.68L2286.84,1009.46L2288.33,1009.57L2289.8,1009.71L2291.27,1009.87L2292.73,1009.66L2294.18,1011.47L2295.63,1009.78L2297.06,1009.77L2298.49,1009.48L2299.91,1011.61L2301.32,1009.47L2302.72,1009.78L2304.11,1009.74L2305.49,1009.62L2306.86,1009.78L2308.23,1009.78L2309.58,1009.82L2310.93,1009.91L2312.27,1009.82L2313.6,1010.18L2314.92,1009.84L2316.23,1010.18L2317.53,1009.62L2318.82,1009.68L2320.1,1009.79L2321.37,1009.73L2322.63,1009.85L2323.89,1008.67L2325.13,1010.67L2326.36,1009.01L2327.59,1010.01L2328.8,1010.11L2330.01,1009.63L2331.2,1010.07L2332.38,1009.74L2333.56,1010.33L2334.72,1010.33L2335.88,1009.9L2337.02,1010.95L2338.15,1010.18L2339.28,1010.06L2340.39,1009.75L2341.49,1009.95L2342.59,1009.99L2343.67,1009.98L2344.74,1010.14L2345.8,1010.24L2346.85,1010.39L2347.89,1010.16L2348.92,1010.14L2349.93,1010.15L2350.94,1010.07L2351.93,1010.61L2352.92,1010.13L2353.89,1010.12L2354.86,1009.87L2355.81,1008.4L2356.75,1011.51L2357.68,1010.27L2358.59,1010.13L2359.5,1009.79" fill="none" stroke="#0000ff" stroke-width="11" stroke-linecap="round" stroke-linejoin="round"/>
<path d="M241,553.2L241.16,554.42L241.37,556.12L241.64,558.15L242.01,560.36L242.5,562.6L242.91,564.1L243.42,565.74L243.99,567.5L244.61,569.33L245.24,571.23L245.87,573.15L246.48,575.07L247.03,576.96L247.5,578.8L247.91,580.6L248.29,582.38L248.63,584.17L248.95,585.96L249.24,587.75L249.5,589.54L249.75,591.35L249.98,593.16L250.2,595L250.39,596.82L250.55,598.59L250.68,600.35L250.8,602.13L250.9,603.93L250.99,605.8L251.09,607.75L251.19,609.81L251.3,612L251.37,613.25L251.44,614.58L251.52,615.99L251.6,617.47L251.69,619.01L251.78,620.62L251.88,622.29L251.98,624.02L252.08,625.79L252.18,627.61L252.28,629.47L252.39,631.37L252.5,633.3L252.6,635.26L252.71,637.24L252.82,639.25L252.92,641.26L253.03,643.29L253.13,645.32L253.23,647.36L253.33,649.39L253.43,651.41L253.52,653.42L253.62,655.42L253.7,657.39L253.78,659.34L253.86,661.27L253.93,663.15L254,665L254.06,666.82L254.12,668.61L254.17,670.38L254.22,672.14L254.26,673.88L254.3,675.61L254.34,677.32L254.38,679.04L254.41,680.74L254.44,682.45L254.47,684.16L254.49,685.87L254.52,687.58L254.54,689.31L254.57,691.05L254.59,692.8L254.61,694.56L254.64,696.35L254.66,698.16L254.69,699.99L254.71,701.85L254.74,703.74L254.77,705.66L254.8,707.61L254.83,709.6L254.87,711.64L254.91,713.71L254.95,715.83L255,718L255.03,719.51L255.07,721.06L255.1,722.63L255.14,724.23L255.18,725.85L255.22,727.5L255.25,729.17L255.29,730.86L255.33,732.58L255.38,734.31L255.42,736.07L255.46,737.84L255.5,739.63L255.55,741.44L255.59,743.26L255.63,745.1L255.68,746.95L255.72,748.81L255.77,750.68L255.81,752.57L255.86,754.46L255.91,756.36L255.95,758.27L256,760.18L256.05,762.1L256.1,764.03L256.14,765.95L256.19,767.88L256.24,769.81L256.29,771.74L256.34,773.67L256.39,775.6L256.43,777.52L256.48,779.44L256.53,781.36L256.58,783.26L256.63,785.17L256.67,787.06L256.72,788.94L256.77,790.82L256.81,792.68L256.86,794.53L256.91,796.37L256.95,798.19L257,800L257.05,801.85L257.09,803.73L257.14,805.63L257.19,807.55L257.24,809.49L257.29,811.45L257.34,813.43L257.39,815.41L257.43,817.41L257.48,819.42L257.53,821.43L257.58,823.45L257.63,825.47L257.68,827.5L257.74,829.53L257.79,831.55L257.84,833.57L257.89,835.59L257.94,837.6L257.99,839.6L258.04,841.59L258.09,843.56L258.14,845.52L258.19,847.47L258.24,849.39L258.29,851.3L258.33,853.18L258.38,855.04L258.43,856.88L258.48,858.68L258.53,860.46L258.58,862.2L258.62,863.91L258.67,865.59L258.71,867.23L258.76,868.83L258.8,870.39L258.85,871.9L258.89,873.38L258.94,874.8L258.98,876.18L259.02,877.5L259.06,878.78L259.1,880L259.18,882.27L259.27,884.46L259.37,886.57L259.48,888.61L259.59,890.6L259.7,892.53L259.82,894.41L259.94,896.24L260.06,898.04L260.17,899.81L260.29,901.56L260.4,903.28L260.5,905L260.62,907.19L260.71,909.3L260.8,911.36L260.87,913.35L260.96,915.29L261.05,917.19L261.16,919.06L261.3,920.89L261.48,922.7L261.7,924.5L261.96,926.48L262.22,928.43L262.49,930.34L262.79,932.22L263.15,934.05L263.56,935.83L264.07,937.55L264.67,939.21L265.4,940.8L266.39,942.52L267.56,944.17L268.87,945.76L270.27,947.27L271.72,948.7L273.19,950.06L274.63,951.32L276,952.5L277.69,953.91L279.28,955.13L280.88,956.2L282.57,957.17L284.44,958.05L286.6,958.9L287.81,959.33L289.1,959.79L290.46,960.27L291.9,960.76L293.42,961.27L295,961.79L296.64,962.32L298.34,962.85L300.11,963.8L301.92,963.7L303.79,964.38L305.7,964.93L307.66,965.13L309.66,965.73L311.7,966.41L313.77,966.77L315.87,967.17L318,967.72L319.47,967.78L321.02,968.15L322.63,968.11L324.3,968.03L326.02,968.58L327.79,969.05L329.61,970.57L331.46,969.51L333.35,968.92L335.26,969.81L337.2,970.2L339.16,970.33L341.12,970.59L343.1,970.6L345.08,970.83L347.05,971.18L349.01,971.06L350.96,971.13L352.89,971.54L354.8,971.54L356.68,971.96L358.52,971.15L360.32,972.12L362.08,972.23L363.79,972.5L365.44,972.59L367.03,972.71L368.55,972.28L370,974.16L372.18,972.85L374.23,973.77L376.19,973.7L378.05,973.48L379.85,973.37L381.59,973.94L383.3,973.79L384.99,973.95L386.68,974.31L388.39,973.89L390.13,974.21L391.93,974.14L393.8,974.17L395.76,974.41L397.82,974.54L400,974.68L401.27,974.5L402.58,974.62L403.93,974.6L405.32,974.85L406.74,974.67L408.21,974.99L409.7,974.8L411.23,975.11L412.8,975.01L414.39,975.22L416.02,975.41L417.67,975.41L419.35,975.28L421.07,975.52L422.8,975.72L424.57,977.15L426.36,975.78L428.17,976.08L430,975.96L431.86,975.96L433.73,975.99L435.62,976.31L437.54,976.06L439.47,976.28L441.41,976.35L443.37,976.05L445.35,976.58L447.33,976.68L449.33,976.71L451.34,976.8L453.36,976.93L455.39,977.17L457.42,977.17L459.46,977.25L461.51,977.84L463.56,978.57L465.62,977.22L467.67,977.31L469.73,977.65L471.79,977.7L473.85,977.7L475.9,977.68L477.95,977.85L480,978.11L481.64,978.11L483.27,977.99L484.91,978.01L486.55,978.39L488.19,978.24L489.83,978.56L491.47,978.35L493.12,978.48L494.77,978.65L496.42,978.61L498.08,978.63L499.74,979.37L501.4,978.76L503.07,979.04L504.75,978.99L506.43,978.93L508.11,979.17L509.8,979.15L511.5,979.07L513.21,979.25L514.92,979.38L516.64,979.37L518.37,979.36L520.1,979.5L521.85,979.31L523.6,979.72L525.36,979.81L527.14,979.67L528.92,979.78L530.71,980.13L532.52,980L534.33,979.88L536.16,980.19L538,980.35L539.85,980.17L541.71,980.08L543.59,979.51L545.48,980.24L547.38,980.43L549.3,980.68L551.23,980.62L553.18,980.32L555.14,980.57L557.12,981.77L559.11,980.65L561.12,980.88L563.15,980.97L565.19,979.89L567.25,981.28L569.33,981.03L571.43,981.45L573.54,981.08L575.67,981.46L577.83,981.49L580,981.51L581.36,981.32L582.72,981.59L584.1,981.56L585.48,981.57L586.88,981.64L588.28,981.81L589.7,981.71L591.12,981.95L592.55,981.89L593.99,981.95L595.44,982.08L596.9,982.15L598.37,982.14L599.85,981.31L601.34,982.09L602.84,982.25L604.34,982.25L605.86,982.35L607.38,982.52L608.92,982.45L610.46,982.47L612.01,982.65L613.57,982.79L615.13,982.82L616.71,982.56L618.3,983.09L619.89,982.92L621.49,983.73L623.1,982.83L624.72,982.97L626.35,982.54L627.99,983.02L629.63,982.98L631.29,983.14L632.95,983.37L634.62,983.09L636.29,983.16L637.98,983.5L639.67,983.3L641.37,983.34L643.08,983.36L644.8,983.64L646.53,983.63L648.26,983.52L650,983.47L651.75,983.99L653.51,983.88L655.27,983.74L657.04,983.79L658.82,984.21L660.61,984.23L662.4,982.97L664.21,984.31L666.02,984.24L667.83,984.35L669.66,984.38L671.49,984.58L673.33,984.24L675.17,984.48L677.03,985.51L678.89,984.71L680.75,984.59L682.63,984.75L684.51,984.68L686.4,984.89L688.29,984.85L690.2,984.91L692.1,985.08L694.02,984.74L695.94,985.09L697.87,985.18L699.81,984.13L701.75,985.3L703.7,985.27L705.65,985.48L707.61,985.52L709.58,985.61L711.56,985.64L713.54,985.42L715.52,985.76L717.52,985.84L719.52,985.7L721.52,985.92L723.53,985.86L725.55,985.99L727.58,986.18L729.61,985.23L731.64,986.25L733.68,986.22L735.73,986.21L737.78,986.12L739.84,986.48L741.91,986.49L743.98,986.22L746.05,986.51L748.14,986.37L750.22,986.28L752.32,986.74L754.41,986.6L756.52,986.23L758.63,987.26L760.74,986.91L762.86,986.8L764.98,987.02L767.11,986.92L769.25,986.85L771.39,986.97L773.53,987.09L775.68,986.99L777.84,986.79L780,987.14L781.3,987.29L782.6,987.08L783.91,987.25L785.22,987.28L786.54,987.49L787.87,987.33L789.2,986.54L790.54,987.44L791.88,988.18L793.22,987.61L794.58,987.48L795.93,987.54L797.3,987.68L798.66,987.39L800.04,987.47L801.42,987.57L802.8,987.53L804.19,987.75L805.58,987.74L806.98,987.78L808.39,987.62L809.8,987.9L811.21,987.73L812.63,988.87L814.06,987.93L815.48,988.07L816.92,987.89L818.36,988.08L819.8,987.86L821.25,988.11L822.71,988.17L824.17,987.99L825.63,988.11L827.1,988.24L828.58,988.07L830.06,988.18L831.54,988.44L833.03,988.46L834.52,987.23L836.02,988.33L837.53,988.62L839.04,988.37L840.55,988.35L842.07,988.69L843.59,988.48L845.12,988.62L846.65,988.72L848.18,988.58L849.73,989L851.27,988.6L852.82,988.79L854.38,988.81L855.94,988.78L857.5,988.97L859.07,988.93L860.64,989.96L862.22,988.72L863.8,988.58L865.39,989.15L866.98,988.93L868.58,989.01L870.18,989.21L871.78,989.29L873.39,989.13L875,989.19L876.62,989.12L878.24,989.16L879.87,989.38L881.5,989.44L883.14,989.37L884.77,988.71L886.42,989.45L888.07,989.5L889.72,989.56L891.37,989.55L893.03,989.65L894.7,989.56L896.37,989.39L898.04,990.53L899.71,989.77L901.4,989.59L903.08,989.72L904.77,989.85L906.46,989.82L908.16,989.73L909.86,989.79L911.56,990.18L913.27,989.99L914.99,989.42L916.7,990.3L918.42,990.07L920.15,990.02L921.88,990.65L923.61,990.07L925.34,990.13L927.08,990.1L928.83,990.11L930.57,990.27L932.33,990.2L934.08,990.47L935.84,990.37L937.6,990.51L939.37,990.91L941.14,990.39L942.91,990.57L944.69,990.58L946.47,990.51L948.25,990.68L950.04,990.66L951.83,990.61L953.63,990.66L955.42,990.78L957.23,992.04L959.03,990.58L960.84,990.99L962.65,990.86L964.47,991.1L966.29,990.81L968.11,990.78L969.94,991.07L971.77,991.21L973.6,991.22L975.44,992.08L977.27,991.16L979.12,990.96L980.96,991.06L982.81,991.36L984.67,991.21L986.52,991.47L988.38,991.49L990.24,990.57L992.11,991.34L993.98,991.6L995.85,991.59L997.72,991.64L999.6,991.71L1001.48,991.6L1003.36,992.12L1005.25,992.62L1007.14,991.69L1009.04,991.72L1010.93,991.88L1012.83,991.77L1014.73,991.92L1016.64,991.9L1018.55,991.84L1020.46,991.97L1022.37,992.12L1024.29,991.81L1026.21,991.99L1028.13,992.24L1030.05,992.03L1031.98,992.12L1033.91,992.1L1035.85,992.38L1037.78,992.09L1039.72,992.2L1041.66,992.3L1043.61,992.11L1045.55,992.47L1047.5,992.38L1049.46,992.64L1051.41,992.45L1053.37,992.56L1055.33,992.46L1057.29,992.53L1059.26,992.45L1061.22,992.71L1063.19,993.88L1065.17,992.79L1067.14,992.9L1069.12,992.73L1071.1,992.87L1073.08,992.91L1075.07,993.13L1077.06,992.88L1079.05,993.03L1081.04,993.17L1083.03,992.5L1085.03,993.26L1087.03,992.99L1089.03,993.28L1091.03,993.17L1093.04,993.31L1095.05,993.45L1097.06,993.23L1099.07,993.28L1101.09,993.18L1103.1,993.41L1105.12,993.23L1107.14,993.45L1109.17,993.68L1111.19,993.64L1113.22,993.77L1115.25,993.39L1117.28,993.73L1119.32,994.21L1121.35,993.61L1123.39,993.77L1125.43,993.84L1127.47,993.57L1129.51,993.94L1131.56,993.75L1133.61,994.01L1135.66,993.79L1137.71,993.75L1139.76,993.82L1141.81,994.11L1143.87,994.13L1145.93,993.93L1147.99,994.03L1150.05,994.07L1152.11,994.04L1154.18,994.27L1156.25,994.28L1158.32,994.18L1160.39,994.16L1162.46,994.24L1164.53,994.23L1166.61,994.31L1168.68,994.43L1170.76,994.76L1172.84,994.64L1174.92,995.14L1177.01,994.43L1179.09,994.33L1181.18,994.76L1183.27,994.53L1185.35,994.48L1187.44,994.46L1189.54,993.84L1191.63,994.95L1193.72,994.73L1195.82,994.81L1197.92,994.99L1200.02,994.69L1202.12,994.71L1204.22,994.94L1206.32,996.01L1208.42,995.03L1210.53,995.09L1212.64,995.02L1214.74,995.07L1216.85,996.07L1218.96,995.07L1221.07,995.01L1223.18,994.99L1225.3,995.33L1227.41,996.11L1229.53,995.02L1231.64,995.55L1233.76,995.05L1235.88,995.44L1238,995.25L1239.57,995.41L1241.15,995.28L1242.73,996.7L1244.31,995.53L1245.9,995.96L1247.49,995.37L1249.08,995.51L1250.68,995.47L1252.28,995.28L1253.88,995.34L1255.49,996.33L1257.1,995.79L1258.72,995.74L1260.34,995.5L1261.96,995.61L1263.58,995.25L1265.21,996.02L1266.84,995.54L1268.48,995.67L1270.12,997.03L1271.76,996.38L1273.4,995.6L1275.05,995.76L1276.71,995.71L1278.36,995.12L1280.02,995.87L1281.68,995.93L1283.34,995.88L1285.01,995.91L1286.68,995.97L1288.36,995.75L1290.03,995.84L1291.71,995.92L1293.4,995.97L1295.08,995.81L1296.77,995.9L1298.47,996.14L1300.16,997.06L1301.86,995.93L1303.56,995.95L1305.26,994.8L1306.97,996.22L1308.68,996.14L1310.39,995.94L1312.11,995.88L1313.83,995.99L1315.55,996.26L1317.27,996.02L1319,996.4L1320.73,996.09L1322.46,996.35L1324.19,996.26L1325.93,996.24L1327.67,996.18L1329.41,996.23L1331.16,996.15L1332.91,995.08L1334.66,996.47L1336.41,996.66L1338.16,996.48L1339.92,996.41L1341.68,996.57L1343.45,996.59L1345.21,996.66L1346.98,996.25L1348.75,996.56L1350.52,996.78L1352.29,996.24L1354.07,997.35L1355.85,996.29L1357.63,997.46L1359.42,996.67L1361.2,996.95L1362.99,996.59L1364.78,996.77L1366.57,996.55L1368.37,996.64L1370.16,996.88L1371.96,996.45L1373.76,996.84L1375.57,996.81L1377.37,997.08L1379.18,996.74L1380.99,997.56L1382.8,996.93L1384.61,996.94L1386.43,996.83L1388.25,996.85L1390.07,996.84L1391.89,996.8L1393.71,997.1L1395.53,997.78L1397.36,997.09L1399.19,996.95L1401.02,997.06L1402.85,996.91L1404.68,997.1L1406.52,997.08L1408.36,996.92L1410.19,997.14L1412.04,997.16L1413.88,996.99L1415.72,997.24L1417.57,997.88L1419.41,997.27L1421.26,997.03L1423.11,997.24L1424.96,997.28L1426.82,997.22L1428.67,996.14L1430.53,997.16L1432.38,998.1L1434.24,997.02L1436.1,997.18L1437.96,998.32L1439.83,996.48L1441.69,997.23L1443.56,997.42L1445.42,997.43L1447.29,997.55L1449.16,997.47L1451.03,997.42L1452.9,997.33L1454.78,997.43L1456.65,997.6L1458.52,997.95L1460.4,997.32L1462.28,997.37L1464.16,997.61L1466.04,997.53L1467.92,997.33L1469.8,997.6L1471.68,997.69L1473.57,997.5L1475.45,997.75L1477.34,997.53L1479.22,997.88L1481.11,997.98L1483,997.85L1484.89,997.43L1486.78,997.93L1488.67,997.86L1490.56,997.84L1492.45,997.97L1494.35,997.73L1496.24,997.66L1498.13,997.71L1500.03,997.58L1501.93,997.87L1503.82,998.88L1505.72,998.15L1507.62,998.04L1509.52,998.15L1511.41,998.02L1513.31,997.89L1515.21,997.89L1517.12,997.91L1519.02,997.93L1520.92,998.08L1522.82,997.97L1524.72,998.14L1526.63,997.89L1528.53,997.88L1530.43,997.97L1532.34,998.05L1534.24,997.41L1536.14,997.4L1538.05,998.1L1539.95,998.23L1541.86,998.01L1543.77,997.21L1545.67,998.12L1547.58,998.38L1549.48,998.26L1551.39,998.12L1553.3,998.19L1555.2,998.15L1557.11,998.49L1559.02,999.1L1560.92,998.31L1562.83,998.35L1564.74,998.31L1566.64,998.38L1568.55,998.38L1570.46,998.45L1572.36,998.49L1574.27,998.39L1576.17,998.41L1578.08,998.46L1579.99,998.56L1581.89,998.46L1583.8,998.45L1585.7,998.4L1587.61,998.51L1589.51,998.43L1591.42,998.73L1593.32,998.78L1595.22,998.32L1597.13,998.54L1599.03,998.6L1600.93,998.47L1602.84,998.58L1604.74,998.62L1606.64,998.8L1608.54,998.52L1610.44,998.67L1612.34,998.97L1614.24,998.57L1616.14,998.54L1618.04,999.11L1619.93,998.94L1621.83,998.84L1623.73,998.57L1625.62,998.59L1627.52,998.97L1629.41,998.85L1631.3,999.12L1633.2,998.91L1635.09,998.83L1636.98,998.91L1638.87,998.89L1640.76,999.11L1642.65,998.64L1644.54,999.05L1646.42,998.9L1648.31,999.17L1650.19,999.2L1652.08,999.01L1653.96,998.79L1655.84,998.93L1657.72,998.86L1659.6,999.09L1661.48,999.18L1663.36,999.19L1665.24,998.95L1667.11,998.98L1668.99,999.2L1670.86,998.88L1672.73,998.99L1674.6,999.08L1676.47,999.02L1678.34,999.27L1680.21,999.23L1682.08,999.13L1683.94,999.13L1685.8,998.73L1687.67,999.21L1689.53,999.21L1691.39,999.21L1693.24,999.4L1695.1,998.24L1696.95,999.37L1698.81,999.55L1700.66,999.54L1702.51,999.4L1704.36,999.4L1706.21,999.75L1708.05,999.18L1709.9,999.41L1711.74,999.26L1713.58,999.43L1715.42,999.45L1717.26,999.56L1719.09,999.4L1720.93,999.41L1722.76,999.5L1724.59,999.39L1726.42,999.74L1728.25,999.78L1730.07,999.59L1731.89,999.22L1733.72,999.46L1735.54,999.57L1737.35,999.45L1739.17,999.46L1740.98,1000.84L1742.8,999.5L1744.61,999.68L1746.41,999.51L1748.22,999.67L1750.02,1000.24L1751.82,999.78L1753.62,999.68L1755.42,999.86L1757.22,999.67L1759.01,999.76L1760.8,999.69L1762.59,1000.06L1764.38,1000.4L1766.16,999.92L1767.94,999.63L1769.72,1000.13L1771.5,999.83L1773.28,999.95L1775.05,999.88L1776.82,999.82L1778.59,999.82L1780.35,999.87L1782.12,998.92L1783.88,999.84L1785.64,1000.91L1787.39,999.98L1789.15,1000.1L1790.9,999.78L1792.65,999.7L1794.39,1000.11L1796.14,1000.16L1797.88,1000.08L1799.61,1000.01L1801.35,999.97L1803.08,999.85L1804.81,999.67L1806.54,999.9L1808.27,999.99L1809.99,1000.29L1811.71,1000.13L1813.42,1000.06L1815.14,999.3L1816.85,1000.28L1818.55,1000.01L1820.26,1000.05L1821.96,1000.14L1823.66,1001.08L1825.36,1000.16L1827.05,1000.27L1828.74,1000.35L1830.43,1000.26L1832.11,999.59L1833.79,1000.13L1835.47,1000.15L1837.15,1000.3L1838.82,1000.23L1840.49,1000.23L1842.15,1000.56L1843.82,1000.14L1845.48,1001.28L1847.13,1000.35L1848.78,1000.41L1850.43,1001.8L1852.08,1000.47L1853.72,1000.38L1855.36,1000.25L1857,1001.63L1859.01,1000.47L1861.03,1000.38L1863.04,999.83L1865.07,1001.07L1867.09,1000.48L1869.12,999.62L1871.15,1000.56L1873.19,1000.43L1875.22,1000.4L1877.26,1000.81L1879.31,1000.52L1881.35,1000.62L1883.4,1000.53L1885.45,1000.66L1887.51,1000.72L1889.56,1000.75L1891.62,1000.49L1893.69,1000.64L1895.75,1000.8L1897.82,1000.56L1899.89,1000.71L1901.96,1000.78L1904.03,1000.65L1906.11,1000.69L1908.19,1000.5L1910.27,1001.1L1912.35,1001L1914.44,1002.12L1916.52,1000.93L1918.61,1000.85L1920.7,1000.73L1922.8,1001.06L1924.89,1001.01L1926.99,1000.63L1929.08,1000.79L1931.18,1000.71L1933.28,1000.86L1935.39,1000.99L1937.49,1001.22L1939.6,1001.16L1941.7,1000.9L1943.81,1001.02L1945.92,1000.92L1948.03,1001.28L1950.14,1001.05L1952.25,1001.14L1954.36,1000.88L1956.48,1001.01L1958.59,1000.99L1960.71,1001.77L1962.83,1001.13L1964.94,1001.07L1967.06,1001.18L1969.18,1000.96L1971.3,1001.07L1973.42,1001.21L1975.54,1001.19L1977.66,1001.11L1979.78,1001.37L1981.9,1001.1L1984.03,1001.19L1986.15,1001.32L1988.27,1001.19L1990.39,1001.23L1992.51,1001.16L1994.64,1001.58L1996.76,1001.48L1998.88,1001.29L2001,1002.48L2003.12,1001.25L2005.25,1001.31L2007.37,1001.21L2009.49,1001.32L2011.61,1001.46L2013.73,1001.35L2015.85,1001.17L2017.97,1002.02L2020.08,1001.24L2022.2,1001.62L2024.32,1002.21L2026.43,1001.87L2028.55,1001.6L2030.66,1001.56L2032.78,1001.53L2034.89,1001.34L2037,1001.46L2039.11,1001.55L2041.22,1001.91L2043.32,1000.91L2045.43,1001.54L2047.54,1001.34L2049.64,1001.63L2051.74,1001.46L2053.84,1001.49L2055.94,1001.73L2058.04,1001.63L2060.13,1001.59L2062.23,1001.86L2064.32,1001.58L2066.41,1001.79L2068.5,1001.59L2070.58,1001.73L2072.67,1001.81L2074.75,1001.77L2076.83,1001.74L2078.91,1001.66L2080.99,1001.92L2083.06,1001.89L2085.13,1001.47L2087.2,1001.44L2089.27,1001.58L2091.33,1001.52L2093.4,1001.81L2095.45,1001.94L2097.51,1001.95L2099.57,1001.58L2101.62,1001.77L2103.67,1001.72L2105.71,1001.98L2107.75,1001.72L2109.79,1001.71L2111.83,1000.98L2113.86,1001.65L2115.9,1001.95L2117.92,1002.38L2119.95,1002.04L2121.97,1001.94L2123.99,1001.92L2126,1001.61L2128.01,1000.84L2130.02,1001.99L2132.02,1002.12L2134.02,1001.86L2136.02,1001.93L2138.01,1001.82L2140,1002.18L2141.99,1001.88L2143.97,1001.76L2145.95,1003.18L2147.92,1002.51L2149.89,1001.99L2151.86,1001.98L2153.82,1001.93L2155.78,1002.13L2157.73,1000.72L2159.68,1002.1L2161.63,1002.09L2163.57,1002.02L2165.5,1002.36L2167.44,1001.77L2169.36,1002.15L2171.28,1002.33L2173.2,1001.99L2175.12,1002.03L2177.02,1002.08L2178.93,1002.01L2180.83,1002.37L2182.72,1001.98L2184.61,1002.07L2186.49,1001.65L2188.37,1002.09L2190.25,1002.47L2192.11,1002.32L2193.98,1002.34L2195.83,1002.18L2197.69,1002.24L2199.53,1003.37L2201.38,1002.53L2203.21,1002.51L2205.04,1000.97L2206.87,1002.07L2208.69,1002.27L2210.5,1001.15L2212.31,1002.1L2214.11,1002.17L2215.91,1002.43L2217.7,1002.53L2219.48,1002.85L2221.26,1002.37L2223.03,1003.3L2224.8,1002.43L2226.56,1002.4L2228.31,1002.38L2230.06,1002.31L2231.8,1002.25L2233.54,1002.64L2235.27,1002.35L2236.99,1002.31L2238.7,1002.44L2240.41,1002.27L2242.11,1002.44L2243.81,1002.52L2245.5,1002.79L2247.18,1002.71L2248.85,1002.5L2250.52,1002.38L2252.18,1002.75L2253.83,1002.48L2255.48,1002.57L2257.12,1002.27L2258.75,1002.69L2260.38,1001.62L2262,1002.67L2263.61,1002.51L2265.21,1002.45L2266.8,1002.51L2268.39,1003.86L2269.97,1001.73L2271.55,1002.4L2273.11,1002.76L2274.67,1002.57L2276.22,1002.63L2277.76,1002.63L2279.29,1004L2280.82,1002.57L2282.34,1002.62L2283.85,1002.56L2285.35,1002.79L2286.84,1002.7L2288.33,1002.08L2289.8,1002.71L2291.27,1002.86L2292.73,1002.66L2294.18,1002.66L2295.63,1002.73L2297.06,1002.9L2298.49,1002.82L2299.91,1002.54L2301.32,1002.83L2302.72,1002.47L2304.11,1002.63L2305.49,1004.07L2306.86,1003L2308.23,1004.04L2309.58,1002.86L2310.93,1002.89L2312.27,1002.72L2313.6,1002.73L2314.92,1002.86L2316.23,1003.44L2317.53,1002.88L2318.82,1002.76L2320.1,1002.86L2321.37,1002.96L2322.63,1002.88L2323.89,1002.42L2325.13,1001.74L2326.36,1003.09L2327.59,1002.99L2328.8,1002.73L2330.01,1002.87L2331.2,1003.06L2332.38,1002.89L2333.56,1002.92L2334.72,1002.56L2335.88,1002.98L2337.02,1002.83L2338.15,1002.57L2339.28,1002.76L2340.39,1003.14L2341.49,1002.36L2342.59,1002.96L2343.67,1002.99L2344.74,1002.97L2345.8,1003.22L2346.85,1003.1L2347.89,1003.01L2348.92,1001.87L2349.93,1002.96L2350.94,1002.77L2351.93,1002.95L2352.92,1002.75L2353.89,1002.93L2354.86,1002.82L2355.81,1002.81L2356.75,1002.93L2357.68,1002.96L2358.59,1002.93L2359.5,1002.91" fill="none" stroke="#ff00ff" stroke-width="11" stroke-linecap="round" stroke-linejoin="round"/>
<path d="M241,248.4L256.3,248.4L256.3,247.41L256.31,246.32L256.31,245.11L256.32,243.81L256.32,242.42L256.33,240.93L256.33,239.36L256.34,237.71L256.34,235.99L256.35,234.19L256.36,232.33L256.36,230.41L256.37,228.43L256.38,226.41L256.39,224.34L256.39,222.23L256.4,220.08L256.41,217.91L256.42,215.7L256.43,213.48L256.44,211.24L256.45,209L256.46,206.74L256.48,204.49L256.49,202.24L256.5,200L256.51,198.48L256.52,196.9L256.53,195.27L256.53,193.59L256.54,191.87L256.55,190.1L256.56,188.29L256.57,186.44L256.58,184.57L256.59,182.66L256.59,180.72L256.6,178.76L256.61,176.78L256.62,174.78L256.63,172.77L256.64,170.75L256.65,168.72L256.66,166.69L256.67,164.65L256.68,162.62L256.69,160.59L256.7,158.57L256.72,156.56L256.73,154.56L256.74,152.58L256.75,150.63L256.77,148.7L256.78,146.79L256.79,144.92L256.81,143.08L256.82,141.28L256.84,139.52L256.85,137.8L256.87,136.13L256.89,134.5L256.9,132.94L256.92,131.42L256.94,129.97L256.96,128.58L256.98,127.26L257,126L257.04,123.78L257.1,121.57L257.17,119.39L257.25,117.25L257.33,115.15L257.43,113.11L257.52,111.14L257.62,109.24L257.72,107.43L257.83,105.72L257.93,104.11L258.02,102.61L258.11,101.24L258.2,100L258.46,97.64L258.83,95.6L259.3,93.3L259.62,91.58L259.95,89.67L260.33,87.72L260.78,85.88L261.3,84.3L262.37,82.21L263.63,80.55L265,79.3L267.11,78.36L269.6,78L271.24,77.81L273.14,77.65L275.26,77.51L277.56,77.37L280,77.2L281.43,77.09L282.94,76.97L284.54,76.84L286.23,76.7L287.99,76.55L289.82,76.41L291.73,76.27L293.7,76.13L295.74,76.01L297.84,75.9L300,76L301.11,75.81L302.26,75.86L303.45,75.81L304.67,75.81L305.94,75.54L307.23,75.68L308.57,75.49L309.93,76.27L311.34,75.16L312.77,75.3L314.24,75.04L315.74,75.27L317.27,74.99L318.83,75.27L320.42,74.9L322.04,75.06L323.68,74.87L325.36,74.38L327.06,74.51L328.79,74.25L330.54,74.62L332.32,74.55L334.12,74.72L335.94,74.18L337.79,74.4L339.65,74.12L341.54,74.05L343.45,74.08L345.38,73.85L347.33,73.84L349.29,73.67L351.27,73.54L353.27,73.91L355.29,73.53L357.32,73.48L359.36,72.73L361.42,73.52L363.49,73.46L365.58,73.09L367.67,73.17L369.78,73.19L371.89,72.98L374.02,71.65L376.15,72.96L378.3,72.92L380.45,73.05L382.6,72.92L384.76,72.7L386.93,72.81L389.1,72.71L391.28,72.64L393.46,72.35L395.64,72.48L397.82,72.77L400,72.55L401.32,72.47L402.66,72.19L404,72.4L405.35,72.22L406.72,72.15L408.09,72.43L409.48,72.37L410.87,72.19L412.27,71.16L413.69,71.94L415.11,72.12L416.54,71.02L417.98,71.9L419.44,72.38L420.9,71.88L422.37,72.3L423.85,71.85L425.34,71.95L426.84,70.59L428.35,71.78L429.86,71.74L431.39,72.2L432.93,70.74L434.47,71.42L436.03,71.88L437.59,72.01L439.16,71.66L440.74,71.56L442.33,71.69L443.93,71.64L445.53,71.62L447.15,71.51L448.77,71.58L450.41,71.64L452.05,71.49L453.7,71.15L455.35,71.47L457.02,71.26L458.69,71.12L460.38,71.5L462.07,70.96L463.77,71.33L465.47,71.13L467.19,71.35L468.91,71.3L470.64,71.01L472.38,69.95L474.12,71.16L475.88,70.93L477.64,70.89L479.41,70.99L481.19,70.75L482.97,70.88L484.76,69.32L486.56,71.03L488.37,71.11L490.18,70.95L492,70.76L493.83,70.8L495.66,70.76L497.51,71.22L499.36,70.89L501.21,70.57L503.08,70.36L504.95,70.81L506.82,70.39L508.71,70.52L510.6,70.31L512.49,69.94L514.4,70.31L516.31,70.24L518.22,70.41L520.15,70.43L522.08,70.43L524.01,70.29L525.96,68.76L527.9,70.36L529.86,70.17L531.82,70.24L533.79,70.12L535.76,70.1L537.74,69.81L539.72,70.36L541.71,69.87L543.71,69.84L545.71,69.83L547.72,69.48L549.73,69.91L551.75,69.95L553.78,69.88L555.81,69.81L557.84,70.25L559.88,70.14L561.93,69.76L563.98,69.4L566.04,68.75L568.1,69.64L570.17,69.78L572.24,70.11L574.32,69.95L576.4,70.16L578.49,70.1L580.58,70.1L582.67,69.74L584.78,71.28L586.88,69.74L588.99,69.69L591.11,69.96L593.23,69.82L595.35,69.45L597.48,69.57L599.61,69.62L601.75,69.47L603.89,69.53L606.04,69.52L608.19,69.67L610.34,69.7L612.5,69.51L614.66,69.68L616.83,69.43L619,69.49L620.22,69.57L621.46,69.37L622.7,69.26L623.94,69.76L625.19,69.35L626.45,69.59L627.72,69.4L628.99,68.79L630.27,69.19L631.55,69.49L632.84,69.36L634.14,69.19L635.44,67.83L636.75,69.41L638.07,69.11L639.4,69.38L640.72,69.63L642.06,69.43L643.4,69.05L644.75,68.13L646.11,69.32L647.47,69.72L648.83,69.49L650.21,69.4L651.59,69.28L652.97,69.12L654.36,69.37L655.76,69.32L657.16,68.1L658.57,69.27L659.99,69.47L661.41,69.23L662.84,69.15L664.27,69.39L665.71,69.86L667.15,69.37L668.6,69.29L670.06,69.18L671.52,69.46L672.99,69.36L674.46,68.96L675.94,68.14L677.42,69.14L678.91,69.49L680.4,69.1L681.9,67.61L683.41,69.19L684.92,69.32L686.44,69.43L687.96,69.2L689.49,69.16L691.02,69.23L692.56,69.23L694.1,69.05L695.65,69.24L697.2,69.03L698.76,69.39L700.32,69.29L701.89,69.11L703.46,68.99L705.04,69.1L706.63,69.06L708.21,69.15L709.81,69.23L711.41,69.12L713.01,69.43L714.62,67.86L716.23,68.94L717.85,70.44L719.47,69.05L721.1,69.34L722.73,69.09L724.37,69.02L726.01,69.23L727.65,69.12L729.3,68.99L730.96,69.15L732.62,69.07L734.28,69.01L735.95,69.08L737.62,69.15L739.3,69.11L740.98,69.07L742.66,70.05L744.35,69L746.05,68.8L747.75,70.56L749.45,69.36L751.16,68.72L752.87,68.95L754.58,68.91L756.3,67.47L758.03,68.82L759.75,68.85L761.48,69.04L763.22,68.76L764.96,68.93L766.7,69.06L768.45,69.13L770.2,68.75L771.96,68.84L773.71,68.83L775.48,68.68L777.24,68.86L779.01,69.06L780.79,68.87L782.56,69.03L784.34,68.74L786.13,69.1L787.92,68.95L789.71,68.75L791.5,68.81L793.3,69.21L795.1,69.07L796.91,68.69L798.72,68.7L800.53,69.05L802.34,69.04L804.16,68.8L805.98,68.97L807.81,68.88L809.64,67.41L811.47,69.07L813.3,69.29L815.14,69.05L816.98,68.87L818.83,68.99L820.67,68.91L822.52,68.87L824.37,68.81L826.23,68.73L828.09,68.65L829.95,68.86L831.82,68.67L833.68,68.88L835.55,68.74L837.43,68.47L839.3,68.71L841.18,68.77L843.06,68.68L844.94,68.86L846.83,68.68L848.72,68.8L850.61,68.81L852.5,68.43L854.4,68.76L856.3,68.61L858.2,68.54L860.1,68.81L862.01,69.04L863.92,68.6L865.83,68.93L867.74,68.52L869.65,68.84L871.57,68.89L873.49,68.9L875.41,68.67L877.34,68.52L879.26,68.7L881.19,68.86L883.12,69.08L885.05,68.6L886.99,68.6L888.92,69.1L890.86,68.71L892.8,68.97L894.74,68.75L896.68,68.79L898.63,68.35L900.58,68.71L902.52,68.66L904.48,68.56L906.43,67.85L908.38,68.75L910.34,68.63L912.29,68.82L914.25,68.64L916.21,68.37L918.17,68.48L920.14,68.55L922.1,70.03L924.07,68.33L926.03,68.7L928,68.31L929.97,68.9L931.94,68.67L933.92,68.63L935.89,68.55L937.87,68.37L939.84,68.59L941.82,68.61L943.8,68.74L945.78,68.47L947.76,68.24L949.74,68.69L951.72,68.52L953.71,68.81L955.69,68.6L957.68,68.27L959.66,68.69L961.65,68.91L963.64,68.48L965.63,68.44L967.62,68.46L969.61,68.49L971.6,68.72L973.59,68.55L975.58,68.64L977.58,68.51L979.57,68.6L981.56,68.58L983.56,68.48L985.55,68.57L987.55,68.46L989.54,68.24L991.54,68.47L993.54,68.13L995.53,68.57L997.53,68.43L999.53,68.54L1001.53,68.66L1003.53,68.21L1005.52,68.25L1007.52,68.44L1009.52,68.28L1011.52,68.45L1013.52,68.37L1015.52,68.59L1017.52,68.66L1019.52,68.66L1021.52,68.38L1023.52,68.29L1025.51,69.63L1027.51,68.53L1029.51,68.59L1031.51,68.48L1033.51,68.54L1035.51,68.5L1037.5,68.57L1039.5,68.37L1041.5,67.22L1043.49,68.11L1045.49,68.29L1047.49,68.23L1049.48,69.19L1051.48,68.35L1053.47,68.19L1055.46,68.22L1057.46,68.54L1059.45,67.85L1061.44,68.45L1063.43,68.53L1065.42,68.27L1067.41,68.59L1069.4,68.53L1071.39,66.55L1073.38,68.32L1075.36,68.26L1077.35,68.25L1079.34,68.32L1081.32,68.43L1083.3,68.63L1085.28,68.57L1087.27,68.29L1089.25,68.51L1091.22,68.45L1093.2,68.38L1095.18,68.46L1097.15,68.2L1099.13,68.3L1101.1,68.43L1103.07,68.45L1105.04,68.6L1107.01,68.45L1108.98,68.41L1110.95,68.22L1112.91,67.82L1114.88,68.12L1116.84,68.11L1118.8,68.17L1120.76,68.29L1122.71,68.24L1124.67,68.2L1126.63,68.23L1128.58,68.05L1130.53,68.2L1132.48,68.04L1134.43,68.95L1136.37,68.29L1138.32,68.17L1140.26,68.34L1142.2,68.65L1144.14,68.21L1146.07,68.11L1148.01,68.06L1149.94,68.46L1151.87,67.94L1153.8,68.32L1155.73,68.13L1157.65,68.38L1159.57,68.33L1161.49,68.13L1163.41,68.15L1165.33,68.27L1167.24,68.18L1169.15,68.28L1171.06,68.33L1172.97,67.98L1174.87,68.11L1176.77,68.03L1178.67,68.06L1180.57,67.89L1182.46,68.36L1184.36,68.1L1186.25,68.41L1188.13,67.81L1190.02,67.99L1191.9,67.94L1193.78,66.74L1195.65,68.23L1197.53,67.93L1199.4,68.18L1201.27,68.3L1203.13,68.19L1204.99,68.08L1206.85,68.18L1208.71,68.21L1210.56,67.97L1212.42,67.97L1214.26,68.12L1216.11,68.17L1217.95,68.2L1219.79,68.04L1221.62,68.46L1223.46,68.23L1225.29,67.83L1227.11,68.16L1228.93,68.08L1230.75,68.24L1232.57,67.89L1234.38,68.07L1236.19,69.53L1238,69.47L1239.81,68.26L1241.61,68.17L1243.42,68.21L1245.23,67.92L1247.04,67.98L1248.85,67.88L1250.66,68.19L1252.47,67.96L1254.28,68.2L1256.09,68.07L1257.91,68.28L1259.72,67.87L1261.54,68.06L1263.36,67.88L1265.18,68.02L1267,69.28L1268.82,67.99L1270.64,68.1L1272.46,68.35L1274.28,66.7L1276.1,68.04L1277.93,68.2L1279.75,68.18L1281.58,69.3L1283.4,68.17L1285.23,67.87L1287.06,68.08L1288.89,68.2L1290.72,67.76L1292.55,68.01L1294.38,68.17L1296.21,68.01L1298.04,67.7L1299.87,67.91L1301.71,67.94L1303.54,68.11L1305.38,67.8L1307.21,68.05L1309.05,68.07L1310.89,68.01L1312.72,68.8L1314.56,67.8L1316.4,68.28L1318.24,68.39L1320.08,68.08L1321.92,67.96L1323.76,68.33L1325.61,68.07L1327.45,67.84L1329.29,67.99L1331.13,68.03L1332.98,67.98L1334.82,68.09L1336.67,67.88L1338.51,67.87L1340.36,69.25L1342.21,67.97L1344.05,69L1345.9,68.14L1347.75,67.84L1349.6,68.07L1351.45,67.81L1353.3,67.99L1355.15,67.69L1357,67.9L1358.85,69.54L1360.7,68.08L1362.55,67.75L1364.4,67.98L1366.26,67.88L1368.11,67.92L1369.96,68.04L1371.82,67.82L1373.67,68.13L1375.53,68.1L1377.38,68.03L1379.24,67.95L1381.09,68.05L1382.95,67.02L1384.8,68.25L1386.66,67.72L1388.52,68.07L1390.37,67.7L1392.23,68.06L1394.09,68.1L1395.94,69.31L1397.8,68.07L1399.66,67.92L1401.52,67.85L1403.38,66.17L1405.24,67.93L1407.1,68.23L1408.96,68.17L1410.81,68.14L1412.67,68.01L1414.53,67.55L1416.39,68.36L1418.25,67.81L1420.11,67.69L1421.97,68.02L1423.83,67.88L1425.7,68.08L1427.56,68.02L1429.42,66.98L1431.28,67.92L1433.14,68.45L1435,67.92L1436.86,67.91L1438.72,67.66L1440.58,67.93L1442.44,67.82L1444.31,67.88L1446.17,68.01L1448.03,68.05L1449.89,67.89L1451.75,68.06L1453.61,67.76L1455.47,67.78L1457.33,67.91L1459.2,67.73L1461.06,67.94L1462.92,68.01L1464.78,67.96L1466.64,68.96L1468.5,67.89L1470.36,67.55L1472.22,68.06L1474.08,67.83L1475.94,67.92L1477.8,67.9L1479.66,68.06L1481.52,67.59L1483.38,69.12L1485.24,67.97L1487.1,68.12L1488.96,67.9L1490.82,68.01L1492.68,67.92L1494.54,68.04L1496.4,68.05L1498.25,66.75L1500.11,68.01L1501.97,67.94L1503.83,67.9L1505.69,68L1507.54,67.92L1509.4,67.97L1511.26,68.81L1513.11,67.95L1514.97,68.02L1516.82,67.9L1518.68,67.47L1520.53,68.17L1522.39,68.04L1524.24,67.49L1526.1,68L1527.95,67.5L1529.8,66.24L1531.66,67.87L1533.51,67.63L1535.36,67.75L1537.21,68.16L1539.06,67.84L1540.91,67.71L1542.76,68.03L1544.61,67.72L1546.46,67.92L1548.31,67.99L1550.16,67.88L1552.01,67.85L1553.86,67.84L1555.7,67.88L1557.55,67.98L1559.4,67.84L1561.24,68.06L1563.09,67.78L1564.93,67.69L1566.78,67.92L1568.62,68.55L1570.46,68.04L1572.31,67.79L1574.15,67.86L1575.99,68.07L1577.83,67.8L1579.67,67.78L1581.51,67.77L1583.35,68.13L1585.18,67.9L1587.02,67.88L1588.86,68L1590.7,67.85L1592.53,67.44L1594.37,68.14L1596.2,67.66L1598.03,68.11L1599.87,67.54L1601.7,67.85L1603.53,67.84L1605.36,67.64L1607.19,67.82L1609.02,67.96L1610.85,67.85L1612.67,68.91L1614.5,67.77L1616.33,67.68L1618.15,67.88L1619.98,67.67L1621.8,68.09L1623.62,69.1L1625.45,67.94L1627.27,67.6L1629.09,68.24L1630.91,67.72L1632.73,67.88L1634.54,67.94L1636.36,67.9L1638.18,67.78L1639.99,68.04L1641.81,67.48L1643.62,67.69L1645.43,68.06L1647.24,67.9L1649.05,67.69L1650.86,68.24L1652.67,68.29L1654.48,67.79L1656.29,66.46L1658.09,67.8L1659.9,67.85L1661.7,67.6L1663.5,67.87L1665.31,67.84L1667.11,67.73L1668.91,68.06L1670.71,66.37L1672.5,67.75L1674.3,67.86L1676.1,67.83L1677.89,67.7L1679.68,66.57L1681.48,69.2L1683.27,67.91L1685.06,67.83L1686.85,67.95L1688.63,67.27L1690.42,68.12L1692.21,67.87L1693.99,67.58L1695.77,69.22L1697.56,67.64L1699.34,68.11L1701.12,67.95L1702.9,67.99L1704.67,67.95L1706.45,68.99L1708.22,67.57L1710,67.73L1711.77,67.97L1713.54,67.99L1715.31,68.12L1717.08,67.78L1718.85,67.77L1720.61,67.48L1722.38,67.87L1724.14,67.59L1725.91,67.65L1727.67,67.17L1729.43,67.85L1731.18,67.84L1732.94,67.62L1734.7,67.06L1736.45,67.62L1738.2,66.35L1739.96,67.89L1741.71,67.92L1743.45,67.92L1745.2,67.9L1746.95,67.49L1748.69,67.84L1750.44,67.71L1752.18,67.65L1753.92,67.7L1755.66,67.9L1757.39,67.92L1759.13,67.92L1760.86,67.74L1762.6,68.49L1764.33,67.61L1766.06,67.73L1767.79,68.02L1769.51,67.8L1771.24,67.75L1772.96,67.64L1774.69,69.17L1776.41,67.71L1778.12,68.07L1779.84,67.87L1781.56,67.54L1783.27,66.45L1784.99,68.84L1786.7,68.54L1788.41,67.72L1790.11,68.02L1791.82,67.96L1793.53,67.98L1795.23,67.31L1796.93,67.87L1798.63,67.34L1800.33,66.39L1802.02,67.63L1803.72,67.74L1805.41,67.57L1807.1,68.02L1808.79,67.85L1810.48,67.76L1812.17,67.88L1813.85,66.59L1815.53,67.79L1817.21,66.51L1818.89,67.81L1820.57,67.64L1822.25,68.16L1823.92,67.78L1825.59,67.73L1827.26,67.88L1828.93,67.77L1830.59,67.93L1832.26,68.06L1833.92,67.64L1835.58,67.97L1837.24,67.8L1838.9,66.48L1840.55,68.02L1842.21,68.01L1843.86,68.05L1845.51,67.91L1847.16,68.03L1848.8,67.9L1850.44,67.61L1852.09,67.67L1853.73,67.39L1855.36,67.73L1857,67.58L1859.01,67.31L1861.03,67.92L1863.04,67.6L1865.07,67.12L1867.09,67.52L1869.12,67.88L1871.15,68.21L1873.19,67.72L1875.22,67.91L1877.26,67.46L1879.31,68.38L1881.35,67.96L1883.4,67.79L1885.45,67.81L1887.51,67.6L1889.56,68.57L1891.62,66.44L1893.69,67.93L1895.75,67.89L1897.82,67.64L1899.89,67.56L1901.96,65.96L1904.03,67.43L1906.11,67.71L1908.19,67.75L1910.27,67.87L1912.35,67.05L1914.44,69.36L1916.52,67.69L1918.61,67.96L1920.7,67.96L1922.8,67.73L1924.89,67.87L1926.99,67.82L1929.08,67.78L1931.18,67.48L1933.28,67.95L1935.39,67.64L1937.49,67.39L1939.6,67.81L1941.7,67.72L1943.81,67.87L1945.92,67.58L1948.03,67.8L1950.14,67.59L1952.25,67.58L1954.36,67.64L1956.48,67.08L1958.59,69.29L1960.71,67.51L1962.83,67.51L1964.94,67.8L1967.06,67.45L1969.18,68L1971.3,67.62L1973.42,67.6L1975.54,67.82L1977.66,67.52L1979.78,67.84L1981.9,67.46L1984.03,67.61L1986.15,67.67L1988.27,67.6L1990.39,67.58L1992.51,67.31L1994.64,67.46L1996.76,66.54L1998.88,68.92L2001,67.56L2003.12,67.82L2005.25,67.76L2007.37,67.29L2009.49,67.51L2011.61,67.55L2013.73,67.51L2015.85,67.69L2017.97,67.71L2020.08,67.5L2022.2,67.77L2024.32,67.69L2026.43,67.4L2028.55,67.47L2030.66,67.59L2032.78,67.7L2034.89,67.56L2037,67.94L2039.11,67.04L2041.22,67.5L2043.32,67.64L2045.43,67.72L2047.54,67.41L2049.64,67.57L2051.74,67.52L2053.84,67.13L2055.94,67.5L2058.04,68.37L2060.13,67.67L2062.23,67.68L2064.32,67.44L2066.41,68.47L2068.5,67.45L2070.58,67.33L2072.67,67.53L2074.75,67.42L2076.83,67.67L2078.91,67.6L2080.99,67.73L2083.06,68L2085.13,67.48L2087.2,67.21L2089.27,67.36L2091.33,66.52L2093.4,67.62L2095.45,67.13L2097.51,67.4L2099.57,67.78L2101.62,67.33L2103.67,67.54L2105.71,67.38L2107.75,67.51L2109.79,67.41L2111.83,67.33L2113.86,67.49L2115.9,67.62L2117.92,67.21L2119.95,67.5L2121.97,67.31L2123.99,67.6L2126,67.5L2128.01,67.3L2130.02,67.29L2132.02,68.29L2134.02,67.26L2136.02,67.54L2138.01,67.37L2140,67.25L2141.99,67.84L2143.97,67.38L2145.95,67.65L2147.92,67.43L2149.89,67.05L2151.86,67.57L2153.82,67.32L2155.78,67.36L2157.73,67.37L2159.68,67.32L2161.63,67.58L2163.57,67.6L2165.5,67.62L2167.44,67.04L2169.36,67.22L2171.28,67.57L2173.2,67.53L2175.12,67.52L2177.02,67.29L2178.93,67.44L2180.83,67.24L2182.72,67.34L2184.61,67.5L2186.49,67.46L2188.37,67.43L2190.25,65.98L2192.11,67.62L2193.98,67.3L2195.83,67.44L2197.69,67.24L2199.53,67.31L2201.38,67.5L2203.21,67.33L2205.04,67.1L2206.87,67.18L2208.69,67.2L2210.5,67.3L2212.31,67.26L2214.11,67.33L2215.91,68.1L2217.7,67.08L2219.48,67.23L2221.26,67.33L2223.03,67.11L2224.8,67.27L2226.56,67.5L2228.31,67.35L2230.06,67.34L2231.8,67.55L2233.54,66.97L2235.27,67.57L2236.99,67.38L2238.7,67.2L2240.41,67.12L2242.11,67.39L2243.81,67.5L2245.5,67.12L2247.18,66.4L2248.85,67.27L2250.52,67.2L2252.18,67.5L2253.83,67.38L2255.48,66.99L2257.12,67.5L2258.75,66.36L2260.38,67.17L2262,67.17L2263.61,67.22L2265.21,65.5L2266.8,66.92L2268.39,67.23L2269.97,67.48L2271.55,67.29L2273.11,67.32L2274.67,67.06L2276.22,67.35L2277.76,67.59L2279.29,68.39L2280.82,67.04L2282.34,67.17L2283.85,67.55L2285.35,67.04L2286.84,67.21L2288.33,67.19L2289.8,67.42L2291.27,67.21L2292.73,67.3L2294.18,67.11L2295.63,66.97L2297.06,67.46L2298.49,66.81L2299.91,67.39L2301.32,67.04L2302.72,67.25L2304.11,67.17L2305.49,67.04L2306.86,67.37L2308.23,67L2309.58,67.12L2310.93,67.16L2312.27,67.32L2313.6,66.17L2314.92,67.28L2316.23,66.98L2317.53,67.14L2318.82,67.28L2320.1,67.41L2321.37,67.4L2322.63,66.54L2323.89,67.22L2325.13,67.26L2326.36,67.02L2327.59,67.08L2328.8,67.2L2330.01,67.15L2331.2,67.11L2332.38,67.16L2333.56,66.96L2334.72,66.9L2335.88,66.94L2337.02,66.97L2338.15,66.97L2339.28,66.38L2340.39,67.13L2341.49,67.27L2342.59,68.31L2343.67,66.98L2344.74,67.01L2345.8,67.12L2346.85,67.11L2347.89,67.21L2348.92,67.14L2349.93,66.98L2350.94,67.04L2351.93,67.08L2352.92,67.05L2353.89,67.2L2354.86,67.41L2355.81,67.09L2356.75,67.03L2357.68,66.93L2358.59,67.22L2359.5,67.26" fill="none" stroke="#000000" stroke-width="11.4" stroke-linecap="round" stroke-linejoin="round"/>
</g>
<g id="inset-curves">
<path d="M493.87,260.97L499.94,261.78L504.79,257.33L513.69,259.35L526.63,261.38L531.89,265.02L542.82,257.33L554.14,265.02L562.23,262.18L570.73,259.35L575.99,265.02L581.25,261.78L586.5,262.59L592.98,258.54L602.69,265.02L608.75,257.33L619.68,267.04L630.6,253.28L635.86,268.25L642.33,259.76L652.85,264.21L658.51,258.54L664.17,259.35L668.9,265.02L674.97,253.28L679.82,262.99L685.08,256.52L690.74,257.73L696.81,255.31L702.07,265.02L707.33,258.54L712.59,259.35L717.85,263.4L728.77,258.54L739.69,265.02L746.57,261.78L751.02,255.31L756.68,262.18L762.35,260.57L767.2,254.5L777.72,267.04L783.79,255.31L789.05,268.25L794.71,259.76L799.97,266.23L806.04,257.73L811.29,260.97L816.96,262.18L821.81,255.31L827.88,258.14L832.73,257.73L843.66,264.21L849.32,261.78L854.98,254.5L860.52,254.5L868.61,261.38L876.7,255.31L882.36,255.71L888.03,257.73L893.69,257.73L899.35,258.95L903.8,253.28L911.49,254.5L914.72,262.99L925.65,258.95L931.72,262.59L936.97,259.76L942.64,262.99L947.9,262.99L953.56,259.76L961.65,258.54L967.31,259.76L975,262.99L981.88,261.78L985.92,255.31L991.59,255.31L997.25,259.35L1002.91,257.73L1007.77,258.14L1013.83,265.02L1019.09,252.48L1025.57,256.93L1035.28,257.73L1041.34,260.16" fill="none" stroke="#ff0000" stroke-width="10.6" stroke-linecap="round" stroke-linejoin="round"/>
<path d="M486.59,445.83L492.65,451.08L498.32,445.83L508.83,449.87L514.9,443.8L520.57,450.68L525.83,444.61L531.08,455.13L542.01,446.63L547.67,448.66L552.93,454.32L559,447.85L564.66,450.28L570.32,449.47L580.84,444.61L585.7,445.83L590.95,444.61L596.21,449.47L602.69,448.25L607.54,449.47L612.8,444.61L618.87,454.32L629.39,446.63L635.05,441.78L640.71,451.49L652.04,447.85L657.7,445.02L664.17,443.8L667.69,443.8L673.75,448.25L679.01,445.83L685.08,449.06L694.79,449.06L706.12,455.94L716.63,450.28L727.96,447.85L733.62,451.89L738.88,447.85L744.14,449.87L749.81,454.32L760.73,446.63L765.99,449.06L771.65,449.06L777.31,447.85L782.98,444.61L788.24,451.89L793.5,447.44L798.75,445.83L804.42,450.68L809.68,444.61L815.34,447.85L821,447.04L826.67,451.89L831.93,444.61L837.99,452.7L843.25,448.66L854.17,448.66L864.97,458.37L875.89,444.61L881.15,454.32L892.07,451.89L903.4,448.66L908.66,445.83L913.92,447.44L919.58,445.83L930.91,451.89L936.17,448.25L947.09,444.61L952.75,447.44L964.08,449.47L968.93,445.83L974.6,446.63L979.85,444.61L985.11,447.85L990.78,444.61L995.63,444.61L1002.1,447.85L1012.62,444.61L1018.28,447.44L1023.14,455.13L1029.21,447.04L1035.28,443.8" fill="none" stroke="#000000" stroke-width="10.6" stroke-linecap="round" stroke-linejoin="round"/>
<path d="M702.94,670.21L708.61,666.41L719.94,672.48L725.6,668.83L730.86,672.48L736.52,666L741.78,671.67L747.85,655.49L753.11,668.83L758.77,668.03L764.03,673.28L769.69,664.79L774.95,671.67L780.61,666.81L786.28,670.45L791.94,670.45L798.01,667.62L802.86,675.31L813.79,670.05L819.45,673.28L825.92,672.48L830.37,661.15L836.04,659.53L841.7,669.24L846.96,671.26L853.03,676.12L858.28,666.81L869.21,675.31L874.87,673.28L880.94,674.9L885.79,674.9L890.92,676.12L896.59,672.88L901.84,672.88L907.51,672.07L912.77,675.71L918.43,668.03L923.69,668.03L929.76,663.58L935.42,674.5L940.68,670.86L945.94,675.31L952.01,671.67L957.67,670.86L963.33,672.48L968.59,668.43L974.26,667.62L979.92,674.09L985.18,674.09L991.25,675.31L996.5,671.67L1002.17,670.86L1007.02,666.41L1015.11,669.64L1018.35,673.69L1024.01,674.9L1029.68,673.69L1034.94,670.86L1040.6,674.09L1045.86,671.67L1051.12,676.52L1056.78,667.62L1062.44,672.88L1068.11,673.69L1074.17,672.48L1078.09,668.43L1084.97,667.62L1090.23,672.07L1095.89,674.09L1101.15,670.86L1107.22,671.67L1112.88,671.67L1118.54,671.67L1124.21,676.52L1130.68,679.35L1134.72,678.95L1139.98,671.67L1145.65,679.35L1150.91,672.88L1156.57,674.5L1162.23,676.93L1167.9,677.73L1175.18,676.93L1183.67,674.9L1188.93,676.12L1195,672.07L1200.66,676.52L1205.92,670.86L1211.59,672.88L1216.84,675.71L1222.51,674.9L1228.58,676.93L1234.24,676.93L1239.5,678.14L1245.16,663.98L1250.42,670.45L1256.08,678.14" fill="none" stroke="#ff00ff" stroke-width="10.6" stroke-linecap="round" stroke-linejoin="round"/>
<path d="M702.94,792.73L709.42,795.16L715.89,796.38L720.34,795.57L730.86,777.36L741.78,790.71L747.44,788.28L753.11,788.28L758.77,795.57L764.03,790.71L769.69,793.54L774.95,781.41L785.87,793.14L791.94,783.43L797.61,785.86L802.86,781.41L807.72,797.99L813.79,788.69L824.71,802.44L830.78,788.69L836.04,791.93L840.89,778.58L851.81,787.48L857.88,786.67L863.95,795.57L869.21,786.67L880.13,803.25L885.79,789.5L891.33,794.76L896.59,796.78L901.84,777.36L907.51,800.02L913.17,793.54L918.43,793.95L924.09,795.57L929.76,789.5L935.83,793.14L940.68,790.31L947.15,794.35L952.82,795.16L958.07,805.28L962.93,798.8L969,803.25L973.85,796.78L979.51,797.18L990.84,789.5L996.5,794.35L1001.36,795.16L1007.02,797.59L1012.69,785.45L1018.35,784.64L1024.01,805.28L1028.87,785.86L1034.94,801.23L1040.6,790.71L1045.86,796.78L1051.52,795.97L1057.18,794.76L1062.85,801.23L1068.11,791.93L1074.17,795.16L1078.9,800.02L1089.82,789.5L1095.49,800.02L1100.74,789.5L1106.81,806.08L1112.07,791.52L1117.73,795.57L1122.99,791.52L1128.25,802.04L1133.92,802.04L1139.58,800.42L1145.65,796.78L1150.91,809.32L1155.76,797.59L1161.83,807.3L1167.09,794.35L1172.75,790.71L1178.41,795.16L1184.08,784.64L1195,800.83L1205.92,785.45L1211.59,800.02L1217.25,796.78L1222.91,796.78L1228.17,808.92L1233.83,794.76L1244.76,800.02L1250.83,797.59L1256.08,800.02" fill="none" stroke="#0000ff" stroke-width="10.6" stroke-linecap="round" stroke-linejoin="round"/>
</g>
<g id="annotations">
<rect x="1935.3" y="27.9" width="203.6" height="70.9" fill="none" stroke="#000" stroke-width="4.8"/>
<rect x="1910.9" y="961" width="203" height="71" fill="none" stroke="#000" stroke-width="5"/>
<path d="M1935.3,82.5 L1084.8,322.5" fill="none" stroke="#000" stroke-width="7" stroke-linecap="round"/>
<polygon points="1037.2,335.5 1077.6,298.1 1092,346.9" fill="#000"/>
<path d="M1910.75,960.25 L1390.3,817.9" fill="none" stroke="#000" stroke-width="7" stroke-linecap="round"/>
<polygon points="1342.2,805.4 1396.9,794 1383.7,841.8" fill="#000"/>
</g>
<g id="legend">
<path d="M1545.75,310 L1769.25,310" fill="none" stroke="#ff0000" stroke-width="11" stroke-linecap="round" stroke-linejoin="round"/>
<path d="M1545.75,396.75 L1769.25,396.75" fill="none" stroke="#0000ff" stroke-width="11" stroke-linecap="round" stroke-linejoin="round"/>
<path d="M1545.75,483 L1769.25,483" fill="none" stroke="#ff00ff" stroke-width="11" stroke-linecap="round" stroke-linejoin="round"/>
<path d="M1545.75,569 L1769.25,569" fill="none" stroke="#000000" stroke-width="11" stroke-linecap="round" stroke-linejoin="round"/>
<text x="1823.65 1865.31 1893.16 1925.11 1959.14 1978.21 2017.02 2051.67 2070.56 2102.56 2134.56 2167.09 2204.11 2226.66 2258.46 2290.45" y="341.6" font-family='"Liberation Serif", serif' font-size="69.3" fill="#000">Traning accuracy</text>
<text x="1825.65 1867.01 1895.06 1927.11 1960.84 1980.11 2018.52 2053.17 2073.81 2093.46 2127.16 2159.46" y="424.7" font-family='"Liberation Serif", serif' font-size="69.3" fill="#000">Traning loss</text>
<text x="1822.42 1875.86 1910.01 1924.74 1963.11 1983.76 2022.16 2048.46" y="523.7 523.7 523.7 530.4 523.7 523.7 523.7 523.7" font-family='"Liberation Serif", serif' font-size="69.3" fill="#000">Val_loss</text>
<text x="1821.62 1875.86 1908.91 1923.84 1961.86 1993.56 2025.56 2057.29 2095.11 2117.56 2149.36 2181.35" y="596.8 596.8 596.8 603.3 596.8 596.8 596.8 596.8 596.8 596.8 596.8 596.8" font-family='"Liberation Serif", serif' font-size="69.3" fill="#000">Val_accuracy</text>
</g>
<g id="ticklabels">
<text x="239.78" y="1184" font-family='"Liberation Serif", serif' font-size="81.8" fill="#262626">0</text>
<text x="557.05 595.68 638.48" y="1184" font-family='"Liberation Serif", serif' font-size="81.8" fill="#262626">500</text>
<text x="894.81 933.88 976.68 1013.68" y="1184" font-family='"Liberation Serif", serif' font-size="81.8" fill="#262626">1000</text>
<text x="1245.86 1284.05 1327.88 1365.78" y="1184" font-family='"Liberation Serif", serif' font-size="81.8" fill="#262626">1500</text>
<text x="1596.91 1636.78 1679.78 1716.58" y="1184" font-family='"Liberation Serif", serif' font-size="81.8" fill="#262626">2000</text>
<text x="1953.91 1993.05 2036.68 2073.68" y="1184" font-family='"Liberation Serif", serif' font-size="81.8" fill="#262626">2500</text>
<text x="2307.09 2344.98 2387.68 2425.48" y="1184" font-family='"Liberation Serif", serif' font-size="81.8" fill="#262626">3000</text>
<text x="188.91" y="78.9" font-family='"Liberation Serif", serif' font-size="81.8" fill="#262626">1</text>
<text x="132.68 170.41 191.78" y="283.2" font-family='"Liberation Serif", serif' font-size="81.8" fill="#262626">0.8</text>
<text x="132.68 170.41 191.79" y="493.2" font-family='"Liberation Serif", serif' font-size="81.8" fill="#262626">0.6</text>
<text x="132.68 170.41 190.55" y="696.9" font-family='"Liberation Serif", serif' font-size="81.8" fill="#262626">0.4</text>
<text x="132.68 170.41 190.41" y="907" font-family='"Liberation Serif", serif' font-size="81.8" fill="#262626">0.2</text>
<text x="189.68" y="1112.1" font-family='"Liberation Serif", serif' font-size="81.8" fill="#262626">0</text>
</g>
<g id="axislabels">
<text x="1099.01 1126.97 1147.76 1185.09 1218.04 1251.17 1278.1 1298.64 1340.94 1383.69 1406.87 1429.1 1449.3 1513.91 1552.59" y="1293.7" font-family='"Liberation Serif", serif' font-size="85.5" fill="#262626">Iteration times</text>
<text x="-0.97 47.48 86.38 107.37 147.24" y="0" font-family='"Liberation Serif", serif' font-size="86" fill="#262626" transform="translate(75,647.1) rotate(-90)">Value</text>
</g>
<g id="inset-labels">
<text x="311.9 343.11 366.03 397.74 428.9" y="282.8" font-family='"Liberation Sans", sans-serif' font-size="59" fill="#262626">0.986</text>
<text x="311.9 343.11 366.03 397.74 428.95" y="326.5" font-family='"Liberation Sans", sans-serif' font-size="59" fill="#262626">0.984</text>
<text x="311.9 343.11 366.03 397.74 429.03" y="366" font-family='"Liberation Sans", sans-serif' font-size="59" fill="#262626">0.982</text>
<text x="345.4 377.11 399.13 431.74" y="405" font-family='"Liberation Sans", sans-serif' font-size="59" fill="#262626">0.98</text>
<text x="311.9 343.11 366.03 398.08 430.14" y="442.5" font-family='"Liberation Sans", sans-serif' font-size="59" fill="#262626">0.978</text>
<text x="314.7 347.21 368.43 400.58 432.1" y="487" font-family='"Liberation Sans", sans-serif' font-size="59" fill="#262626">0.976</text>
<text x="415.13 447.84 485.5 517.7" y="532.3" font-family='"Liberation Sans", sans-serif' font-size="59" fill="#262626">2500</text>
<text x="669.53 702.64 741.04 773" y="532.3" font-family='"Liberation Sans", sans-serif' font-size="59" fill="#262626">2550</text>
<text x="952.63 985.5 1023.7 1055.45" y="532.3" font-family='"Liberation Sans", sans-serif' font-size="59" fill="#262626">2600</text>
<text x="545.9 578.11 598.8 631.88 663.94" y="642.2" font-family='"Liberation Sans", sans-serif' font-size="59" fill="#262626">0.075</text>
<text x="580 611.81 634.1 665.83" y="746.5" font-family='"Liberation Sans", sans-serif' font-size="59" fill="#262626">0.07</text>
<text x="540.7 572.91 594.9 626.3 658.94" y="852.4" font-family='"Liberation Sans", sans-serif' font-size="59" fill="#262626">0.065</text>
<text x="657.73 691.24 729 761.1" y="901.3" font-family='"Liberation Sans", sans-serif' font-size="59" fill="#262626">2500</text>
<text x="936.78 970.14 1008.04 1040.2" y="902.3" font-family='"Liberation Sans", sans-serif' font-size="59" fill="#262626">2550</text>
<text x="1210.23 1242.1 1281.2 1312.9" y="902.3" font-family='"Liberation Sans", sans-serif' font-size="59" fill="#262626">2600</text>
</g>
</svg>
</body></html>
